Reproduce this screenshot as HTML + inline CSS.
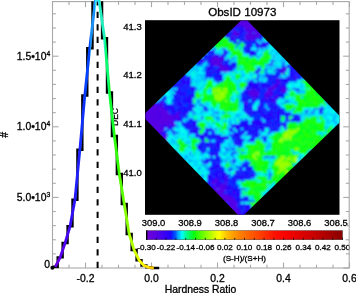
<!DOCTYPE html>
<html><head><meta charset="utf-8"><title>Hardness Ratio</title>
<style>html,body{margin:0;padding:0;background:#fff;width:356px;height:293px;overflow:hidden}</style>
</head><body>
<svg xmlns="http://www.w3.org/2000/svg" width="356" height="293" viewBox="0 0 356 293" style="display:block">
<defs>
<linearGradient id="cb" x1="146.5" y1="0" x2="342.5" y2="0" gradientUnits="userSpaceOnUse"><stop offset="0.000" stop-color="#7400cc"/><stop offset="0.023" stop-color="#6600dc"/><stop offset="0.062" stop-color="#5000e8"/><stop offset="0.096" stop-color="#3800f4"/><stop offset="0.122" stop-color="#2000ff"/><stop offset="0.135" stop-color="#0030ff"/><stop offset="0.150" stop-color="#0060ff"/><stop offset="0.156" stop-color="#0090ff"/><stop offset="0.171" stop-color="#00d0ff"/><stop offset="0.181" stop-color="#00ffff"/><stop offset="0.196" stop-color="#00ffb0"/><stop offset="0.217" stop-color="#00ff60"/><stop offset="0.237" stop-color="#00ff20"/><stop offset="0.253" stop-color="#20ff00"/><stop offset="0.283" stop-color="#60ff00"/><stop offset="0.309" stop-color="#90ff00"/><stop offset="0.334" stop-color="#c0ff00"/><stop offset="0.355" stop-color="#e8ff00"/><stop offset="0.370" stop-color="#ffff00"/><stop offset="0.390" stop-color="#ffe000"/><stop offset="0.411" stop-color="#ffc000"/><stop offset="0.431" stop-color="#ffa800"/><stop offset="0.477" stop-color="#ff8000"/><stop offset="0.528" stop-color="#ff6000"/><stop offset="0.579" stop-color="#ff4000"/><stop offset="0.656" stop-color="#ff1000"/><stop offset="0.712" stop-color="#f80000"/><stop offset="0.783" stop-color="#e00000"/><stop offset="0.855" stop-color="#c80000"/><stop offset="0.911" stop-color="#b00000"/><stop offset="1.000" stop-color="#880000"/></linearGradient>
<linearGradient id="hc" x1="52.5" y1="0" x2="316.5" y2="0" gradientUnits="userSpaceOnUse"><stop offset="0.000" stop-color="#7400cc"/><stop offset="0.023" stop-color="#6600dc"/><stop offset="0.062" stop-color="#5000e8"/><stop offset="0.096" stop-color="#3800f4"/><stop offset="0.122" stop-color="#2000ff"/><stop offset="0.135" stop-color="#0030ff"/><stop offset="0.150" stop-color="#0060ff"/><stop offset="0.156" stop-color="#0090ff"/><stop offset="0.171" stop-color="#00d0ff"/><stop offset="0.181" stop-color="#00ffff"/><stop offset="0.196" stop-color="#00ffb0"/><stop offset="0.217" stop-color="#00ff60"/><stop offset="0.237" stop-color="#00ff20"/><stop offset="0.253" stop-color="#20ff00"/><stop offset="0.283" stop-color="#60ff00"/><stop offset="0.309" stop-color="#90ff00"/><stop offset="0.334" stop-color="#c0ff00"/><stop offset="0.355" stop-color="#e8ff00"/><stop offset="0.370" stop-color="#ffff00"/><stop offset="0.390" stop-color="#ffe000"/><stop offset="0.411" stop-color="#ffc000"/><stop offset="0.431" stop-color="#ffa800"/><stop offset="0.477" stop-color="#ff8000"/><stop offset="0.528" stop-color="#ff6000"/><stop offset="0.579" stop-color="#ff4000"/><stop offset="0.656" stop-color="#ff1000"/><stop offset="0.712" stop-color="#f80000"/><stop offset="0.783" stop-color="#e00000"/><stop offset="0.855" stop-color="#c80000"/><stop offset="0.911" stop-color="#b00000"/><stop offset="1.000" stop-color="#880000"/></linearGradient>
<clipPath id="pa"><rect x="52.5" y="-5" width="296.7" height="276.0"/></clipPath>
<clipPath id="dm"><polygon points="244.35,17.32 342.88,119.35 240.85,217.88 142.32,115.85"/></clipPath>
<clipPath id="bx"><rect x="145" y="20.2" width="194.5" height="194.6"/></clipPath>
<filter id="sf" filterUnits="userSpaceOnUse" x="130" y="5" width="225" height="225"><feGaussianBlur stdDeviation="0.8"/></filter>
</defs>
<rect width="356" height="293" fill="#fff"/>
<rect x="145.0" y="20.2" width="194.5" height="194.60000000000002" fill="#000"/>
<g clip-path="url(#bx)"><g clip-path="url(#dm)"><g filter="url(#sf)">
<path fill="#5600e5" d="M237 20h2v2h-2zM235 22h2v2h-2zM243 22h2v2h-2zM251 22h2v2h-2zM253 24h2v2h-2zM253 26h2v2h-2zM253 28h2v2h-2zM245 34h4v2h-4zM257 34h2v2h-2zM249 36h2v2h-2zM247 38h2v2h-2zM213 56h4v2h-4zM221 58h2v2h-2zM213 60h2v2h-2zM217 60h2v2h-2zM213 64h2v2h-2zM217 64h2v2h-2zM221 66h2v2h-2zM225 70h4v2h-4zM255 90h2v2h-2zM281 90h2v2h-2zM255 92h2v2h-2zM269 92h2v2h-2zM245 102h2v2h-2zM149 106h2v2h-2zM151 110h2v2h-2zM163 110h2v2h-2zM153 112h2v2h-2zM177 112h2v2h-2zM147 114h2v2h-2zM153 114h2v2h-2zM177 114h2v2h-2zM153 116h2v2h-2zM157 116h2v2h-2zM161 116h2v2h-2zM167 116h4v2h-4zM149 118h2v2h-2zM153 118h2v2h-2zM161 118h2v2h-2zM147 120h2v2h-2zM171 120h2v2h-2zM157 122h2v2h-2zM165 122h2v2h-2zM165 124h2v2h-2zM173 124h2v2h-2zM153 128h2v2h-2zM159 130h2v2h-2zM165 134h2v2h-2zM163 136h2v2h-2zM213 182h2v2h-2zM219 184h2v2h-2zM221 186h2v2h-2zM223 190h2v2h-2zM219 192h4v2h-4zM227 194h2v2h-2zM221 196h2v2h-2zM231 198h2v2h-2zM233 200h2v2h-2zM239 214h2v2h-2zM239 216h2v2h-2z"/>
<path fill="#5a00e2" d="M239 20h4v2h-4zM239 24h2v2h-2zM247 24h2v2h-2zM231 26h2v2h-2zM249 26h2v2h-2zM237 34h2v2h-2zM245 38h2v2h-2zM251 38h2v2h-2zM217 58h2v2h-2zM217 62h2v2h-2zM277 78h2v2h-2zM271 86h2v2h-2zM273 88h2v2h-2zM249 90h2v2h-2zM283 90h2v2h-2zM257 92h2v2h-2zM267 92h2v2h-2zM255 94h2v2h-2zM253 96h2v2h-2zM273 100h2v2h-2zM161 108h4v2h-4zM145 110h4v2h-4zM155 110h2v2h-2zM149 112h2v2h-2zM165 112h2v2h-2zM165 114h4v2h-4zM149 116h2v2h-2zM147 118h2v2h-2zM153 120h2v2h-2zM161 120h2v2h-2zM165 120h2v2h-2zM147 122h2v2h-2zM153 124h2v2h-2zM157 126h2v2h-2zM161 128h4v2h-4zM159 134h2v2h-2zM161 136h2v2h-2zM225 182h2v2h-2zM215 188h2v2h-2zM215 190h4v2h-4zM219 194h2v2h-2zM225 196h2v2h-2zM225 198h2v2h-2zM231 206h4v2h-4zM237 210h2v2h-2z"/>
<path fill="#5300e6" d="M243 20h2v2h-2zM239 22h4v2h-4zM237 24h2v2h-2zM243 24h2v2h-2zM251 24h2v2h-2zM251 26h2v2h-2zM229 28h2v2h-2zM253 30h2v2h-2zM247 32h2v2h-2zM259 32h2v2h-2zM251 36h2v2h-2zM255 36h2v2h-2zM211 58h2v2h-2zM215 58h2v2h-2zM211 62h2v2h-2zM215 64h2v2h-2zM283 68h2v2h-2zM271 88h2v2h-2zM251 94h4v2h-4zM265 96h2v2h-2zM253 98h2v2h-2zM271 98h2v2h-2zM155 104h2v2h-2zM161 106h2v2h-2zM151 108h2v2h-2zM159 108h2v2h-2zM153 110h2v2h-2zM157 110h4v2h-4zM165 110h2v2h-2zM147 112h2v2h-2zM155 112h2v2h-2zM159 112h2v2h-2zM149 114h4v2h-4zM161 114h2v2h-2zM151 116h2v2h-2zM167 118h2v2h-2zM177 118h2v2h-2zM151 120h2v2h-2zM155 120h2v2h-2zM169 120h2v2h-2zM169 122h2v2h-2zM159 124h2v2h-2zM171 124h2v2h-2zM153 126h2v2h-2zM161 126h2v2h-2zM165 140h2v2h-2zM215 178h2v2h-2zM225 178h2v2h-2zM221 184h2v2h-2zM225 184h2v2h-2zM213 186h2v2h-2zM221 188h4v2h-4zM221 190h2v2h-2zM233 192h2v2h-2zM223 194h2v2h-2zM229 200h4v2h-4zM229 206h2v2h-2zM231 208h2v2h-2zM235 214h2v2h-2z"/>
<path fill="#5800e4" d="M245 20h2v2h-2zM249 20h2v2h-2zM249 22h2v2h-2zM245 24h2v2h-2zM249 24h2v2h-2zM255 26h2v2h-2zM245 28h2v2h-2zM233 30h2v2h-2zM233 32h2v2h-2zM257 32h2v2h-2zM235 34h2v2h-2zM249 34h2v2h-2zM247 36h2v2h-2zM219 64h2v2h-2zM281 72h2v2h-2zM275 86h2v2h-2zM267 90h2v2h-2zM249 92h2v2h-2zM269 94h2v2h-2zM161 104h2v2h-2zM157 106h2v2h-2zM145 112h2v2h-2zM167 112h2v2h-2zM163 114h2v2h-2zM165 116h2v2h-2zM175 116h4v2h-4zM155 118h2v2h-2zM163 118h4v2h-4zM145 120h2v2h-2zM163 120h2v2h-2zM167 120h2v2h-2zM159 122h4v2h-4zM171 122h2v2h-2zM149 124h2v2h-2zM155 124h2v2h-2zM167 124h2v2h-2zM151 126h2v2h-2zM167 126h2v2h-2zM155 128h4v2h-4zM165 136h2v2h-2zM163 138h2v2h-2zM213 180h2v2h-2zM219 190h2v2h-2zM217 192h2v2h-2zM223 196h2v2h-2zM221 198h2v2h-2zM225 200h2v2h-2zM235 202h2v2h-2zM235 210h2v2h-2zM233 212h2v2h-2zM237 212h2v2h-2z"/>
<path fill="#4f00e9" d="M247 20h2v2h-2zM237 22h2v2h-2zM233 24h2v2h-2zM233 26h2v2h-2zM243 26h2v2h-2zM255 28h2v2h-2zM247 30h4v2h-4zM235 32h2v2h-2zM249 32h2v2h-2zM251 34h2v2h-2zM213 58h2v2h-2zM215 60h2v2h-2zM221 60h2v2h-2zM213 62h2v2h-2zM219 68h2v2h-2zM227 68h2v2h-2zM281 68h2v2h-2zM277 80h2v2h-2zM277 82h2v2h-2zM245 88h2v2h-2zM253 88h2v2h-2zM265 92h2v2h-2zM249 94h2v2h-2zM267 96h2v2h-2zM275 96h2v2h-2zM151 106h2v2h-2zM153 108h2v2h-2zM155 116h2v2h-2zM159 116h2v2h-2zM159 118h2v2h-2zM169 118h2v2h-2zM173 118h2v2h-2zM151 122h4v2h-4zM163 122h2v2h-2zM151 124h2v2h-2zM157 124h2v2h-2zM157 132h4v2h-4zM215 180h4v2h-4zM215 182h2v2h-2zM227 196h6v2h-6zM223 200h2v2h-2zM233 204h2v2h-2zM231 210h2v2h-2zM235 212h2v2h-2z"/>
<path fill="#5c00e1" d="M245 22h2v2h-2zM245 26h2v2h-2zM251 28h2v2h-2zM237 32h2v2h-2zM255 32h2v2h-2zM219 58h2v2h-2zM211 60h2v2h-2zM221 68h2v2h-2zM279 82h2v2h-2zM269 88h2v2h-2zM283 88h2v2h-2zM269 90h2v2h-2zM149 108h2v2h-2zM163 112h2v2h-2zM145 114h2v2h-2zM145 116h2v2h-2zM145 118h2v2h-2zM151 118h2v2h-2zM171 118h2v2h-2zM159 120h2v2h-2zM161 130h2v2h-2zM211 182h2v2h-2zM227 198h4v2h-4zM235 204h2v2h-2z"/>
<path fill="#4c00ea" d="M247 22h2v2h-2zM235 24h2v2h-2zM241 24h2v2h-2zM245 30h2v2h-2zM251 30h2v2h-2zM255 30h2v2h-2zM233 34h2v2h-2zM253 36h2v2h-2zM257 36h2v2h-2zM253 38h2v2h-2zM221 56h2v2h-2zM219 60h2v2h-2zM215 62h2v2h-2zM221 64h2v2h-2zM219 66h2v2h-2zM223 68h4v2h-4zM221 70h2v2h-2zM281 70h4v2h-4zM273 84h2v2h-2zM273 86h2v2h-2zM281 86h2v2h-2zM267 88h2v2h-2zM253 90h2v2h-2zM271 92h2v2h-2zM267 94h2v2h-2zM153 102h2v2h-2zM159 104h2v2h-2zM155 106h2v2h-2zM159 106h2v2h-2zM147 108h2v2h-2zM149 110h2v2h-2zM151 112h2v2h-2zM157 114h4v2h-4zM171 114h2v2h-2zM147 116h2v2h-2zM171 116h4v2h-4zM157 118h2v2h-2zM157 120h2v2h-2zM167 122h2v2h-2zM161 124h4v2h-4zM155 130h4v2h-4zM165 138h2v2h-2zM225 176h2v2h-2zM219 186h2v2h-2zM223 186h2v2h-2zM225 194h2v2h-2zM223 198h2v2h-2zM233 198h2v2h-2zM227 200h2v2h-2zM231 204h2v2h-2zM227 206h2v2h-2zM235 206h2v2h-2zM229 208h2v2h-2zM233 208h2v2h-2zM233 210h2v2h-2zM239 218h2v2h-2z"/>
<path fill="#2900fb" d="M235 26h2v2h-2zM231 28h2v2h-2zM241 28h2v2h-2zM241 30h2v2h-2zM227 36h2v2h-2zM259 36h4v2h-4zM249 40h2v2h-2zM267 40h2v2h-2zM257 42h2v2h-2zM267 42h2v2h-2zM257 44h2v2h-2zM249 46h2v2h-2zM265 46h2v2h-2zM209 50h2v2h-2zM251 50h2v2h-2zM225 52h2v2h-2zM245 52h2v2h-2zM251 52h2v2h-2zM215 54h4v2h-4zM249 54h2v2h-2zM219 56h2v2h-2zM199 60h2v2h-2zM203 60h2v2h-2zM207 60h2v2h-2zM271 62h2v2h-2zM225 64h4v2h-4zM269 64h2v2h-2zM209 66h2v2h-2zM235 66h2v2h-2zM285 66h2v2h-2zM207 68h4v2h-4zM213 70h2v2h-2zM217 70h2v2h-2zM285 70h2v2h-2zM211 72h2v2h-2zM255 72h4v2h-4zM291 72h2v2h-2zM297 72h2v2h-2zM209 74h2v2h-2zM273 74h2v2h-2zM301 74h2v2h-2zM273 76h2v2h-2zM287 76h2v2h-2zM189 78h2v2h-2zM271 78h2v2h-2zM275 78h2v2h-2zM293 78h2v2h-2zM183 80h2v2h-2zM221 80h2v2h-2zM285 80h2v2h-2zM183 82h2v2h-2zM259 82h2v2h-2zM181 84h2v2h-2zM249 84h2v2h-2zM255 84h2v2h-2zM185 86h2v2h-2zM189 86h2v2h-2zM261 86h2v2h-2zM265 86h2v2h-2zM277 86h2v2h-2zM283 86h4v2h-4zM179 88h2v2h-2zM191 88h2v2h-2zM257 88h4v2h-4zM285 88h2v2h-2zM179 90h2v2h-2zM259 90h2v2h-2zM277 90h2v2h-2zM177 92h2v2h-2zM241 92h2v2h-2zM183 94h2v2h-2zM275 94h2v2h-2zM189 96h2v2h-2zM257 96h2v2h-2zM177 98h2v2h-2zM249 98h2v2h-2zM261 98h2v2h-2zM269 98h2v2h-2zM273 98h2v2h-2zM243 100h2v2h-2zM263 100h2v2h-2zM269 100h2v2h-2zM189 102h2v2h-2zM267 102h2v2h-2zM275 102h2v2h-2zM165 104h2v2h-2zM175 104h2v2h-2zM189 104h2v2h-2zM275 104h2v2h-2zM191 106h4v2h-4zM275 106h2v2h-2zM165 108h2v2h-2zM171 108h2v2h-2zM177 108h2v2h-2zM243 108h2v2h-2zM251 108h2v2h-2zM171 110h4v2h-4zM179 110h2v2h-2zM187 110h2v2h-2zM205 110h2v2h-2zM253 110h2v2h-2zM261 110h2v2h-2zM271 110h2v2h-2zM307 110h2v2h-2zM181 112h2v2h-2zM185 112h4v2h-4zM193 112h2v2h-2zM215 112h2v2h-2zM245 112h2v2h-2zM249 112h2v2h-2zM261 114h4v2h-4zM183 116h2v2h-2zM273 116h2v2h-2zM277 116h2v2h-2zM175 118h2v2h-2zM299 118h2v2h-2zM195 120h2v2h-2zM259 120h2v2h-2zM267 120h2v2h-2zM287 120h2v2h-2zM195 122h2v2h-2zM255 122h2v2h-2zM261 122h4v2h-4zM283 122h2v2h-2zM237 124h2v2h-2zM245 124h2v2h-2zM249 124h2v2h-2zM267 124h2v2h-2zM277 124h2v2h-2zM283 124h2v2h-2zM163 126h2v2h-2zM189 126h2v2h-2zM235 126h2v2h-2zM239 126h2v2h-2zM265 126h2v2h-2zM269 126h2v2h-2zM279 126h2v2h-2zM193 128h2v2h-2zM197 128h2v2h-2zM205 128h2v2h-2zM229 128h2v2h-2zM259 128h4v2h-4zM195 130h2v2h-2zM213 130h2v2h-2zM245 130h2v2h-2zM173 132h2v2h-2zM189 132h2v2h-2zM197 132h2v2h-2zM213 132h2v2h-2zM241 132h2v2h-2zM267 132h2v2h-2zM163 134h2v2h-2zM173 134h2v2h-2zM201 134h4v2h-4zM207 134h2v2h-2zM231 134h2v2h-2zM249 134h2v2h-2zM205 136h2v2h-2zM217 136h2v2h-2zM223 136h2v2h-2zM253 136h2v2h-2zM241 138h2v2h-2zM201 140h2v2h-2zM215 140h2v2h-2zM235 140h4v2h-4zM251 140h4v2h-4zM239 142h2v2h-2zM217 144h2v2h-2zM237 144h2v2h-2zM197 146h2v2h-2zM207 146h4v2h-4zM215 146h2v2h-2zM225 148h2v2h-2zM309 150h2v2h-2zM189 152h2v2h-2zM217 154h2v2h-2zM215 156h2v2h-2zM215 160h2v2h-2zM205 162h2v2h-2zM245 162h2v2h-2zM219 164h2v2h-2zM219 168h2v2h-2zM239 168h2v2h-2zM229 170h2v2h-2zM235 170h2v2h-2zM243 170h2v2h-2zM249 170h2v2h-2zM209 172h2v2h-2zM219 172h2v2h-2zM225 172h2v2h-2zM235 172h2v2h-2zM239 172h2v2h-2zM223 174h2v2h-2zM241 174h2v2h-2zM209 176h2v2h-2zM217 176h2v2h-2zM235 176h2v2h-2zM251 176h2v2h-2zM223 178h2v2h-2zM239 178h2v2h-2zM219 180h2v2h-2zM227 180h2v2h-2zM241 180h2v2h-2zM219 182h2v2h-2zM231 188h2v2h-2zM213 190h2v2h-2zM233 190h2v2h-2zM239 192h2v2h-2zM235 194h4v2h-4zM237 196h2v2h-2zM243 196h2v2h-2zM241 200h2v2h-2zM241 204h2v2h-2zM247 206h2v2h-2zM239 208h2v2h-2zM245 208h2v2h-2zM243 212h2v2h-2z"/>
<path fill="#2200fe" d="M237 26h2v2h-2zM259 30h2v2h-2zM227 34h2v2h-2zM261 38h2v2h-2zM235 40h2v2h-2zM247 40h2v2h-2zM237 42h2v2h-2zM255 42h2v2h-2zM249 44h2v2h-2zM265 44h4v2h-4zM259 46h2v2h-2zM213 50h2v2h-2zM225 50h2v2h-2zM253 50h2v2h-2zM203 54h2v2h-2zM203 56h2v2h-2zM209 56h2v2h-2zM217 56h2v2h-2zM199 58h2v2h-2zM205 58h2v2h-2zM209 58h2v2h-2zM231 58h2v2h-2zM197 60h2v2h-2zM225 62h2v2h-2zM223 64h2v2h-2zM233 64h2v2h-2zM267 64h2v2h-2zM207 66h2v2h-2zM211 66h2v2h-2zM291 66h2v2h-2zM217 68h2v2h-2zM277 68h2v2h-2zM293 68h2v2h-2zM255 70h2v2h-2zM205 72h4v2h-4zM289 72h2v2h-2zM293 72h2v2h-2zM257 74h2v2h-2zM279 74h2v2h-2zM293 74h2v2h-2zM189 76h2v2h-2zM217 76h2v2h-2zM221 76h2v2h-2zM265 76h2v2h-2zM291 76h2v2h-2zM301 76h2v2h-2zM181 78h4v2h-4zM205 78h2v2h-2zM213 78h2v2h-2zM255 78h2v2h-2zM267 78h2v2h-2zM283 78h4v2h-4zM299 78h2v2h-2zM215 80h2v2h-2zM249 80h2v2h-2zM275 80h2v2h-2zM181 82h2v2h-2zM189 82h2v2h-2zM247 82h6v2h-6zM257 82h2v2h-2zM265 82h2v2h-2zM273 82h2v2h-2zM173 84h2v2h-2zM177 84h4v2h-4zM187 84h2v2h-2zM253 84h2v2h-2zM261 84h4v2h-4zM267 84h2v2h-2zM283 84h2v2h-2zM169 86h2v2h-2zM191 86h4v2h-4zM255 86h4v2h-4zM279 86h2v2h-2zM185 88h2v2h-2zM279 88h2v2h-2zM293 88h2v2h-2zM243 90h2v2h-2zM275 90h2v2h-2zM175 92h2v2h-2zM181 92h2v2h-2zM243 92h2v2h-2zM173 96h2v2h-2zM243 96h2v2h-2zM269 96h2v2h-2zM165 98h2v2h-2zM185 98h4v2h-4zM243 98h2v2h-2zM159 100h2v2h-2zM163 100h2v2h-2zM183 100h2v2h-2zM247 100h2v2h-2zM251 100h2v2h-2zM177 102h2v2h-2zM183 102h2v2h-2zM171 104h2v2h-2zM177 104h4v2h-4zM245 104h2v2h-2zM251 104h2v2h-2zM181 106h2v2h-2zM189 106h2v2h-2zM205 106h2v2h-2zM245 106h4v2h-4zM269 106h2v2h-2zM273 106h2v2h-2zM279 106h2v2h-2zM247 108h2v2h-2zM245 110h2v2h-2zM269 110h2v2h-2zM279 110h4v2h-4zM321 110h2v2h-2zM173 112h2v2h-2zM247 112h2v2h-2zM267 112h2v2h-2zM273 112h2v2h-2zM287 112h4v2h-4zM311 112h2v2h-2zM255 114h2v2h-2zM265 114h4v2h-4zM271 114h2v2h-2zM277 114h2v2h-2zM297 114h2v2h-2zM179 116h2v2h-2zM285 116h2v2h-2zM297 116h2v2h-2zM279 118h2v2h-2zM177 120h4v2h-4zM255 120h4v2h-4zM181 122h2v2h-2zM245 122h2v2h-2zM271 122h2v2h-2zM185 124h6v2h-6zM193 124h4v2h-4zM243 124h2v2h-2zM247 124h2v2h-2zM255 124h2v2h-2zM259 124h2v2h-2zM165 126h2v2h-2zM173 126h2v2h-2zM193 126h2v2h-2zM231 126h2v2h-2zM245 126h4v2h-4zM271 126h2v2h-2zM171 128h2v2h-2zM195 128h2v2h-2zM209 128h4v2h-4zM235 128h4v2h-4zM165 130h2v2h-2zM171 130h2v2h-2zM193 130h2v2h-2zM205 130h2v2h-2zM241 130h2v2h-2zM249 130h2v2h-2zM277 130h2v2h-2zM191 132h2v2h-2zM195 132h2v2h-2zM211 132h2v2h-2zM251 132h2v2h-2zM209 134h2v2h-2zM215 134h4v2h-4zM237 134h2v2h-2zM259 134h2v2h-2zM203 136h2v2h-2zM213 136h2v2h-2zM219 136h2v2h-2zM235 136h2v2h-2zM239 136h2v2h-2zM263 136h2v2h-2zM217 138h4v2h-4zM237 138h4v2h-4zM265 138h2v2h-2zM203 140h2v2h-2zM209 140h2v2h-2zM263 140h2v2h-2zM209 142h2v2h-2zM217 142h2v2h-2zM221 142h2v2h-2zM235 142h2v2h-2zM235 144h2v2h-2zM199 146h2v2h-2zM205 148h2v2h-2zM201 150h2v2h-2zM215 150h2v2h-2zM213 152h2v2h-2zM235 152h2v2h-2zM273 156h2v2h-2zM215 158h2v2h-2zM211 162h2v2h-2zM215 164h4v2h-4zM215 166h2v2h-2zM219 166h2v2h-2zM249 166h2v2h-2zM245 168h2v2h-2zM249 168h2v2h-2zM237 170h2v2h-2zM213 172h2v2h-2zM223 172h2v2h-2zM243 172h2v2h-2zM209 174h2v2h-2zM215 174h2v2h-2zM269 174h2v2h-2zM221 176h4v2h-4zM237 176h4v2h-4zM253 176h2v2h-2zM213 178h2v2h-2zM227 178h2v2h-2zM241 178h2v2h-2zM207 180h2v2h-2zM211 180h2v2h-2zM235 180h2v2h-2zM205 182h2v2h-2zM221 182h2v2h-2zM207 184h2v2h-2zM229 184h2v2h-2zM225 186h2v2h-2zM211 188h2v2h-2zM227 188h2v2h-2zM237 188h6v2h-6zM235 190h2v2h-2zM245 196h2v2h-2zM235 198h2v2h-2zM227 204h2v2h-2zM239 204h2v2h-2zM245 204h2v2h-2zM239 210h2v2h-2zM243 210h6v2h-6zM241 218h2v2h-2z"/>
<path fill="#1b07ff" d="M239 26h2v2h-2zM233 28h2v2h-2zM239 28h2v2h-2zM239 34h2v2h-2zM229 36h2v2h-2zM239 36h2v2h-2zM237 38h2v2h-2zM255 38h2v2h-2zM235 42h2v2h-2zM251 42h2v2h-2zM261 42h2v2h-2zM269 42h2v2h-2zM261 44h4v2h-4zM243 46h2v2h-2zM213 48h2v2h-2zM223 48h2v2h-2zM243 50h2v2h-2zM253 52h2v2h-2zM225 54h2v2h-2zM207 56h2v2h-2zM211 56h2v2h-2zM223 56h2v2h-2zM257 56h2v2h-2zM223 58h2v2h-2zM197 62h2v2h-2zM207 62h4v2h-4zM233 62h2v2h-2zM283 64h2v2h-2zM229 66h2v2h-2zM211 68h4v2h-4zM259 68h2v2h-2zM291 68h2v2h-2zM257 70h2v2h-2zM265 70h2v2h-2zM277 70h2v2h-2zM291 70h2v2h-2zM295 70h2v2h-2zM217 72h2v2h-2zM219 74h4v2h-4zM267 74h4v2h-4zM291 74h2v2h-2zM209 76h2v2h-2zM215 76h2v2h-2zM219 76h2v2h-2zM177 78h2v2h-2zM187 78h2v2h-2zM251 80h2v2h-2zM271 80h2v2h-2zM287 80h4v2h-4zM177 82h2v2h-2zM217 82h2v2h-2zM253 82h2v2h-2zM263 82h2v2h-2zM285 82h2v2h-2zM175 84h2v2h-2zM269 84h2v2h-2zM281 84h2v2h-2zM171 86h2v2h-2zM247 86h2v2h-2zM183 88h2v2h-2zM255 88h2v2h-2zM297 88h2v2h-2zM193 90h2v2h-2zM247 90h2v2h-2zM297 90h2v2h-2zM247 92h2v2h-2zM277 92h2v2h-2zM191 94h2v2h-2zM279 94h2v2h-2zM183 96h2v2h-2zM187 96h2v2h-2zM191 96h2v2h-2zM175 98h2v2h-2zM189 98h2v2h-2zM247 98h2v2h-2zM177 100h2v2h-2zM253 100h2v2h-2zM267 100h2v2h-2zM159 102h2v2h-2zM173 102h2v2h-2zM181 104h2v2h-2zM193 104h2v2h-2zM201 104h2v2h-2zM243 104h2v2h-2zM163 106h2v2h-2zM173 106h2v2h-2zM183 106h2v2h-2zM173 108h2v2h-2zM181 108h4v2h-4zM207 108h2v2h-2zM259 108h2v2h-2zM265 108h2v2h-2zM275 108h2v2h-2zM279 108h2v2h-2zM185 110h2v2h-2zM251 110h2v2h-2zM259 110h2v2h-2zM319 110h2v2h-2zM175 112h2v2h-2zM305 112h2v2h-2zM319 112h4v2h-4zM173 114h2v2h-2zM247 114h2v2h-2zM287 114h2v2h-2zM291 114h2v2h-2zM265 116h2v2h-2zM275 116h2v2h-2zM279 116h2v2h-2zM287 116h2v2h-2zM191 118h2v2h-2zM263 118h4v2h-4zM269 118h2v2h-2zM295 118h2v2h-2zM173 120h2v2h-2zM191 120h2v2h-2zM277 120h2v2h-2zM289 120h2v2h-2zM299 120h2v2h-2zM193 122h2v2h-2zM239 122h4v2h-4zM275 122h2v2h-2zM169 124h2v2h-2zM191 124h2v2h-2zM231 124h2v2h-2zM235 124h2v2h-2zM251 124h2v2h-2zM253 126h4v2h-4zM263 126h2v2h-2zM267 126h2v2h-2zM277 126h2v2h-2zM283 126h2v2h-2zM215 128h2v2h-2zM245 128h4v2h-4zM255 128h2v2h-2zM263 128h2v2h-2zM273 128h4v2h-4zM167 130h2v2h-2zM231 130h2v2h-2zM237 130h2v2h-2zM251 130h2v2h-2zM271 130h2v2h-2zM193 132h2v2h-2zM243 132h2v2h-2zM257 132h2v2h-2zM269 132h2v2h-2zM167 134h2v2h-2zM233 134h2v2h-2zM195 136h2v2h-2zM227 136h2v2h-2zM221 138h2v2h-2zM243 140h2v2h-2zM167 142h2v2h-2zM201 142h2v2h-2zM215 142h2v2h-2zM239 144h4v2h-4zM205 146h2v2h-2zM217 146h2v2h-2zM219 148h2v2h-2zM227 148h2v2h-2zM233 148h2v2h-2zM217 150h2v2h-2zM309 152h2v2h-2zM271 156h2v2h-2zM207 160h2v2h-2zM203 162h2v2h-2zM241 164h4v2h-4zM213 168h4v2h-4zM247 168h2v2h-2zM215 170h2v2h-2zM219 170h2v2h-2zM211 172h2v2h-2zM217 172h2v2h-2zM247 172h2v2h-2zM233 174h2v2h-2zM201 176h2v2h-2zM215 176h2v2h-2zM219 176h2v2h-2zM243 176h2v2h-2zM207 178h4v2h-4zM217 178h6v2h-6zM247 178h2v2h-2zM225 180h2v2h-2zM233 188h2v2h-2zM231 192h2v2h-2zM235 192h4v2h-4zM233 196h2v2h-2zM239 198h2v2h-2zM247 198h2v2h-2zM235 200h4v2h-4zM247 204h2v2h-2zM245 206h2v2h-2zM241 208h2v2h-2zM241 212h2v2h-2zM245 212h4v2h-4zM243 214h4v2h-4z"/>
<path fill="#2d00f9" d="M241 26h2v2h-2zM223 34h4v2h-4zM241 38h2v2h-2zM263 42h2v2h-2zM245 46h2v2h-2zM261 46h2v2h-2zM207 50h2v2h-2zM273 56h2v2h-2zM201 60h2v2h-2zM273 60h2v2h-2zM207 70h2v2h-2zM215 70h2v2h-2zM259 70h2v2h-2zM295 72h2v2h-2zM281 78h2v2h-2zM185 80h2v2h-2zM257 84h2v2h-2zM177 88h2v2h-2zM279 96h2v2h-2zM181 98h2v2h-2zM187 100h2v2h-2zM199 104h2v2h-2zM321 106h2v2h-2zM203 108h2v2h-2zM257 108h2v2h-2zM319 108h2v2h-2zM191 110h2v2h-2zM271 112h2v2h-2zM183 114h2v2h-2zM269 114h2v2h-2zM249 116h2v2h-2zM263 116h2v2h-2zM251 120h2v2h-2zM269 122h2v2h-2zM257 124h2v2h-2zM167 128h2v2h-2zM189 128h2v2h-2zM257 130h2v2h-2zM223 138h2v2h-2zM199 142h2v2h-2zM211 146h2v2h-2zM209 154h4v2h-4zM233 158h2v2h-2zM207 162h2v2h-2zM217 174h2v2h-2zM221 174h2v2h-2zM251 174h4v2h-4zM211 176h2v2h-2zM243 188h2v2h-2zM239 194h2v2h-2zM247 196h2v2h-2zM263 196h2v2h-2zM245 200h2v2h-2zM249 206h2v2h-2zM239 212h2v2h-2z"/>
<path fill="#5100e7" d="M247 26h2v2h-2zM247 28h4v2h-4zM251 32h2v2h-2zM253 34h4v2h-4zM231 36h2v2h-2zM245 36h2v2h-2zM233 38h2v2h-2zM249 38h2v2h-2zM219 62h2v2h-2zM223 66h4v2h-4zM285 68h2v2h-2zM223 70h2v2h-2zM295 76h2v2h-2zM275 84h2v2h-2zM281 88h2v2h-2zM251 90h2v2h-2zM285 90h2v2h-2zM251 92h4v2h-4zM257 94h2v2h-2zM265 94h2v2h-2zM271 94h2v2h-2zM277 96h2v2h-2zM265 98h2v2h-2zM161 102h2v2h-2zM151 104h4v2h-4zM153 106h2v2h-2zM155 108h4v2h-4zM161 110h2v2h-2zM157 112h2v2h-2zM161 112h2v2h-2zM155 114h2v2h-2zM169 114h2v2h-2zM175 114h2v2h-2zM163 116h2v2h-2zM149 120h2v2h-2zM149 122h2v2h-2zM155 122h2v2h-2zM173 122h2v2h-2zM155 126h2v2h-2zM159 126h2v2h-2zM159 128h2v2h-2zM223 184h2v2h-2zM215 186h4v2h-4zM213 188h2v2h-2zM219 188h2v2h-2zM225 188h2v2h-2zM215 192h2v2h-2zM217 194h2v2h-2zM221 194h2v2h-2zM219 196h2v2h-2zM229 202h6v2h-6zM229 204h2v2h-2zM235 208h2v2h-2zM237 214h2v2h-2zM237 216h2v2h-2z"/>
<path fill="#0033ff" d="M235 28h4v2h-4zM227 30h2v2h-2zM237 30h2v2h-2zM243 32h4v2h-4zM253 32h2v2h-2zM229 34h2v2h-2zM261 34h2v2h-2zM243 36h2v2h-2zM243 38h2v2h-2zM259 38h2v2h-2zM229 40h2v2h-2zM233 40h2v2h-2zM245 40h2v2h-2zM239 42h2v2h-2zM245 42h2v2h-2zM237 44h2v2h-2zM245 44h2v2h-2zM251 44h2v2h-2zM259 44h2v2h-2zM255 46h2v2h-2zM243 48h4v2h-4zM245 50h2v2h-2zM207 52h4v2h-4zM211 54h2v2h-2zM205 56h2v2h-2zM207 58h2v2h-2zM271 60h2v2h-2zM199 62h2v2h-2zM227 62h2v2h-2zM235 62h2v2h-2zM197 64h4v2h-4zM235 64h2v2h-2zM291 64h2v2h-2zM213 66h2v2h-2zM217 66h2v2h-2zM281 66h4v2h-4zM205 68h2v2h-2zM215 68h2v2h-2zM295 68h2v2h-2zM205 70h2v2h-2zM211 70h2v2h-2zM293 70h2v2h-2zM297 70h2v2h-2zM265 72h2v2h-2zM183 74h2v2h-2zM205 74h2v2h-2zM211 74h4v2h-4zM295 74h2v2h-2zM269 76h4v2h-4zM275 76h4v2h-4zM297 76h4v2h-4zM179 78h2v2h-2zM217 78h2v2h-2zM273 78h2v2h-2zM289 78h4v2h-4zM257 80h2v2h-2zM269 80h2v2h-2zM291 80h2v2h-2zM175 82h2v2h-2zM179 82h2v2h-2zM255 82h2v2h-2zM261 82h2v2h-2zM269 82h2v2h-2zM185 84h2v2h-2zM271 84h2v2h-2zM285 84h2v2h-2zM175 86h4v2h-4zM183 86h2v2h-2zM259 86h2v2h-2zM181 88h2v2h-2zM187 88h2v2h-2zM249 88h2v2h-2zM183 90h2v2h-2zM187 90h2v2h-2zM261 90h2v2h-2zM265 90h2v2h-2zM273 90h2v2h-2zM187 92h4v2h-4zM193 92h2v2h-2zM275 92h2v2h-2zM279 92h2v2h-2zM177 94h2v2h-2zM259 94h2v2h-2zM283 94h2v2h-2zM163 96h2v2h-2zM245 96h2v2h-2zM259 96h4v2h-4zM283 96h2v2h-2zM173 98h2v2h-2zM251 98h2v2h-2zM257 98h4v2h-4zM161 100h2v2h-2zM171 100h2v2h-2zM181 100h2v2h-2zM245 100h2v2h-2zM287 100h2v2h-2zM175 102h2v2h-2zM191 102h2v2h-2zM249 102h2v2h-2zM253 102h2v2h-2zM263 102h2v2h-2zM269 102h2v2h-2zM187 104h2v2h-2zM247 104h4v2h-4zM263 104h2v2h-2zM273 104h2v2h-2zM277 104h2v2h-2zM203 106h2v2h-2zM249 106h2v2h-2zM267 106h2v2h-2zM277 106h2v2h-2zM175 108h2v2h-2zM245 108h2v2h-2zM261 108h2v2h-2zM271 108h2v2h-2zM277 108h2v2h-2zM281 108h4v2h-4zM169 110h2v2h-2zM249 110h2v2h-2zM263 110h2v2h-2zM267 110h2v2h-2zM275 110h2v2h-2zM283 110h2v2h-2zM255 112h2v2h-2zM281 112h2v2h-2zM181 114h2v2h-2zM185 114h2v2h-2zM249 114h6v2h-6zM257 114h4v2h-4zM273 114h2v2h-2zM185 116h2v2h-2zM251 116h2v2h-2zM257 116h4v2h-4zM293 116h4v2h-4zM181 118h2v2h-2zM253 118h4v2h-4zM259 118h2v2h-2zM297 118h2v2h-2zM175 120h2v2h-2zM261 120h2v2h-2zM285 120h2v2h-2zM189 122h2v2h-2zM247 122h2v2h-2zM265 122h2v2h-2zM183 124h2v2h-2zM263 124h2v2h-2zM269 124h2v2h-2zM275 124h2v2h-2zM195 126h2v2h-2zM249 126h2v2h-2zM257 126h2v2h-2zM273 126h2v2h-2zM187 128h2v2h-2zM243 128h2v2h-2zM251 128h2v2h-2zM189 130h2v2h-2zM197 130h2v2h-2zM207 130h4v2h-4zM239 130h2v2h-2zM247 130h2v2h-2zM275 130h2v2h-2zM175 132h2v2h-2zM239 132h2v2h-2zM249 132h2v2h-2zM219 134h2v2h-2zM251 134h2v2h-2zM257 134h2v2h-2zM207 136h2v2h-2zM231 136h2v2h-2zM209 138h2v2h-2zM213 138h4v2h-4zM221 140h4v2h-4zM233 140h2v2h-2zM247 140h2v2h-2zM203 142h2v2h-2zM205 144h2v2h-2zM209 144h2v2h-2zM213 144h2v2h-2zM203 146h2v2h-2zM217 148h2v2h-2zM199 150h2v2h-2zM211 150h2v2h-2zM219 150h2v2h-2zM207 152h2v2h-2zM215 152h2v2h-2zM231 152h2v2h-2zM231 154h2v2h-2zM211 156h2v2h-2zM213 158h2v2h-2zM219 158h2v2h-2zM215 162h2v2h-2zM245 164h2v2h-2zM207 168h2v2h-2zM217 168h2v2h-2zM221 168h4v2h-4zM211 170h4v2h-4zM245 170h4v2h-4zM251 170h2v2h-2zM237 172h2v2h-2zM241 172h2v2h-2zM251 172h2v2h-2zM211 174h2v2h-2zM219 174h2v2h-2zM235 174h2v2h-2zM239 174h2v2h-2zM249 174h2v2h-2zM213 176h2v2h-2zM231 176h2v2h-2zM269 176h2v2h-2zM229 178h2v2h-2zM235 178h2v2h-2zM221 180h2v2h-2zM227 182h4v2h-4zM235 182h2v2h-2zM209 184h2v2h-2zM237 184h2v2h-2zM235 186h2v2h-2zM217 188h2v2h-2zM225 190h2v2h-2zM229 190h2v2h-2zM225 192h2v2h-2zM239 196h2v2h-2zM243 198h4v2h-4zM243 200h2v2h-2zM247 200h4v2h-4zM225 202h2v2h-2zM237 204h2v2h-2zM243 206h2v2h-2zM243 208h2v2h-2zM243 216h2v2h-2z"/>
<path fill="#0725ff" d="M243 28h2v2h-2zM257 28h2v2h-2zM229 30h2v2h-2zM229 32h2v2h-2zM241 34h2v2h-2zM259 34h2v2h-2zM233 36h6v2h-6zM241 36h2v2h-2zM235 38h2v2h-2zM239 38h2v2h-2zM239 40h2v2h-2zM251 40h2v2h-2zM259 40h2v2h-2zM247 42h4v2h-4zM265 42h2v2h-2zM235 46h2v2h-2zM247 46h2v2h-2zM257 48h2v2h-2zM261 48h2v2h-2zM249 50h2v2h-2zM255 52h2v2h-2zM213 54h2v2h-2zM255 54h2v2h-2zM203 58h2v2h-2zM225 60h2v2h-2zM229 64h2v2h-2zM287 64h2v2h-2zM233 66h2v2h-2zM289 66h2v2h-2zM265 68h2v2h-2zM289 68h2v2h-2zM209 70h2v2h-2zM273 70h2v2h-2zM215 72h2v2h-2zM185 74h2v2h-2zM207 74h2v2h-2zM265 74h2v2h-2zM271 74h2v2h-2zM277 74h2v2h-2zM283 74h2v2h-2zM289 74h2v2h-2zM297 74h2v2h-2zM181 76h2v2h-2zM185 76h2v2h-2zM205 76h2v2h-2zM213 76h2v2h-2zM267 76h2v2h-2zM303 76h2v2h-2zM257 78h2v2h-2zM217 80h2v2h-2zM267 80h2v2h-2zM273 80h2v2h-2zM281 80h2v2h-2zM293 80h4v2h-4zM173 82h2v2h-2zM267 82h2v2h-2zM283 82h2v2h-2zM189 84h2v2h-2zM247 84h2v2h-2zM279 84h2v2h-2zM173 86h2v2h-2zM179 86h2v2h-2zM187 86h2v2h-2zM167 88h2v2h-2zM189 88h2v2h-2zM193 88h2v2h-2zM247 88h2v2h-2zM261 88h4v2h-4zM275 88h2v2h-2zM295 88h2v2h-2zM175 90h2v2h-2zM181 90h2v2h-2zM245 90h2v2h-2zM191 92h2v2h-2zM261 92h4v2h-4zM185 94h4v2h-4zM241 94h2v2h-2zM261 94h2v2h-2zM177 96h2v2h-2zM185 96h2v2h-2zM241 96h2v2h-2zM249 96h2v2h-2zM271 96h4v2h-4zM161 98h2v2h-2zM241 98h2v2h-2zM255 98h2v2h-2zM267 98h2v2h-2zM179 100h2v2h-2zM191 100h2v2h-2zM197 100h2v2h-2zM285 100h2v2h-2zM155 102h2v2h-2zM181 102h2v2h-2zM243 102h2v2h-2zM261 102h2v2h-2zM265 102h2v2h-2zM273 102h2v2h-2zM163 104h2v2h-2zM169 104h2v2h-2zM191 104h2v2h-2zM269 104h2v2h-2zM177 106h4v2h-4zM185 106h2v2h-2zM189 108h2v2h-2zM205 108h2v2h-2zM269 108h2v2h-2zM323 108h2v2h-2zM167 110h2v2h-2zM175 110h2v2h-2zM181 110h2v2h-2zM247 110h2v2h-2zM273 110h2v2h-2zM305 110h2v2h-2zM217 112h2v2h-2zM257 112h2v2h-2zM275 114h2v2h-2zM279 114h2v2h-2zM295 114h2v2h-2zM181 116h2v2h-2zM187 116h2v2h-2zM255 116h2v2h-2zM245 118h2v2h-2zM187 120h2v2h-2zM241 120h6v2h-6zM273 120h2v2h-2zM295 120h2v2h-2zM183 122h4v2h-4zM191 122h2v2h-2zM229 122h2v2h-2zM273 122h2v2h-2zM253 124h2v2h-2zM271 124h2v2h-2zM281 124h2v2h-2zM285 124h2v2h-2zM191 126h2v2h-2zM197 126h2v2h-2zM233 126h2v2h-2zM275 126h2v2h-2zM169 128h2v2h-2zM191 128h2v2h-2zM253 128h2v2h-2zM269 128h2v2h-2zM191 130h2v2h-2zM211 130h2v2h-2zM243 130h2v2h-2zM261 130h2v2h-2zM177 132h2v2h-2zM233 132h2v2h-2zM255 132h2v2h-2zM205 134h2v2h-2zM239 134h2v2h-2zM245 134h2v2h-2zM253 134h2v2h-2zM209 136h4v2h-4zM215 136h2v2h-2zM233 136h2v2h-2zM237 136h2v2h-2zM255 136h2v2h-2zM265 136h2v2h-2zM199 138h2v2h-2zM211 138h2v2h-2zM235 138h2v2h-2zM249 138h2v2h-2zM253 138h2v2h-2zM263 138h2v2h-2zM217 140h2v2h-2zM207 142h2v2h-2zM237 142h2v2h-2zM241 142h2v2h-2zM197 144h2v2h-2zM201 144h4v2h-4zM213 146h2v2h-2zM201 148h2v2h-2zM209 148h4v2h-4zM231 148h2v2h-2zM203 150h4v2h-4zM209 152h2v2h-2zM265 156h4v2h-4zM205 158h2v2h-2zM211 158h2v2h-2zM205 160h2v2h-2zM211 160h4v2h-4zM217 160h2v2h-2zM233 160h2v2h-2zM211 164h4v2h-4zM293 164h2v2h-2zM241 166h4v2h-4zM247 166h2v2h-2zM231 168h2v2h-2zM251 168h2v2h-2zM209 170h2v2h-2zM241 170h2v2h-2zM253 170h2v2h-2zM249 172h2v2h-2zM253 172h2v2h-2zM269 172h2v2h-2zM225 174h2v2h-2zM229 174h2v2h-2zM243 174h2v2h-2zM255 174h2v2h-2zM247 176h2v2h-2zM231 178h2v2h-2zM209 180h2v2h-2zM229 180h4v2h-4zM223 182h2v2h-2zM231 182h2v2h-2zM213 184h2v2h-2zM227 184h2v2h-2zM231 184h4v2h-4zM231 186h2v2h-2zM237 186h2v2h-2zM237 190h2v2h-2zM235 196h2v2h-2zM239 200h2v2h-2zM253 200h2v2h-2zM249 204h2v2h-2zM237 206h4v2h-4zM241 214h2v2h-2z"/>
<path fill="#0040ff" d="M231 30h2v2h-2zM257 38h2v2h-2zM255 40h2v2h-2zM207 54h2v2h-2zM223 62h2v2h-2zM215 66h2v2h-2zM233 68h2v2h-2zM257 68h2v2h-2zM279 72h2v2h-2zM185 78h2v2h-2zM177 80h2v2h-2zM171 84h2v2h-2zM259 84h2v2h-2zM265 88h2v2h-2zM285 92h2v2h-2zM243 94h2v2h-2zM181 96h2v2h-2zM173 100h2v2h-2zM173 104h2v2h-2zM183 104h4v2h-4zM175 106h2v2h-2zM263 106h2v2h-2zM169 112h2v2h-2zM265 112h2v2h-2zM293 114h2v2h-2zM253 116h2v2h-2zM275 118h2v2h-2zM271 120h2v2h-2zM279 122h2v2h-2zM239 128h2v2h-2zM271 128h2v2h-2zM277 128h2v2h-2zM163 130h2v2h-2zM229 130h2v2h-2zM197 134h2v2h-2zM233 138h2v2h-2zM265 140h2v2h-2zM213 142h2v2h-2zM203 148h2v2h-2zM189 160h2v2h-2zM203 160h2v2h-2zM209 160h2v2h-2zM221 160h2v2h-2zM245 160h2v2h-2zM217 162h2v2h-2zM243 162h2v2h-2zM235 166h6v2h-6zM251 166h2v2h-2zM239 170h2v2h-2zM243 178h2v2h-2zM249 178h2v2h-2zM235 184h2v2h-2zM241 210h2v2h-2z"/>
<path fill="#2600fc" d="M235 30h2v2h-2zM239 30h2v2h-2zM257 30h2v2h-2zM225 32h4v2h-4zM231 32h2v2h-2zM239 32h4v2h-4zM243 34h2v2h-2zM231 38h2v2h-2zM231 40h2v2h-2zM243 40h2v2h-2zM253 40h2v2h-2zM247 44h2v2h-2zM257 46h2v2h-2zM263 46h2v2h-2zM223 50h2v2h-2zM247 50h2v2h-2zM257 50h2v2h-2zM211 52h4v2h-4zM223 52h2v2h-2zM249 52h2v2h-2zM205 54h2v2h-2zM223 54h2v2h-2zM251 54h2v2h-2zM201 58h2v2h-2zM227 58h2v2h-2zM209 60h2v2h-2zM227 60h2v2h-2zM201 62h2v2h-2zM231 62h2v2h-2zM283 62h2v2h-2zM209 64h4v2h-4zM271 64h2v2h-2zM289 64h2v2h-2zM227 66h2v2h-2zM231 66h2v2h-2zM287 66h2v2h-2zM293 66h2v2h-2zM231 68h2v2h-2zM275 68h2v2h-2zM279 68h2v2h-2zM219 70h2v2h-2zM231 70h2v2h-2zM279 70h2v2h-2zM183 76h2v2h-2zM207 76h2v2h-2zM289 76h2v2h-2zM293 76h2v2h-2zM219 78h2v2h-2zM279 78h2v2h-2zM287 78h2v2h-2zM295 78h2v2h-2zM181 80h2v2h-2zM189 80h2v2h-2zM283 80h2v2h-2zM185 82h4v2h-4zM251 84h2v2h-2zM277 84h2v2h-2zM181 86h2v2h-2zM245 86h2v2h-2zM251 86h4v2h-4zM263 86h2v2h-2zM267 86h2v2h-2zM195 88h2v2h-2zM251 88h2v2h-2zM191 90h2v2h-2zM271 90h2v2h-2zM279 90h2v2h-2zM179 92h2v2h-2zM183 92h4v2h-4zM245 92h2v2h-2zM273 92h2v2h-2zM281 92h4v2h-4zM175 94h2v2h-2zM179 94h2v2h-2zM193 94h2v2h-2zM247 94h2v2h-2zM263 94h2v2h-2zM179 96h2v2h-2zM251 96h2v2h-2zM255 96h2v2h-2zM191 98h2v2h-2zM275 98h4v2h-4zM189 100h2v2h-2zM259 100h4v2h-4zM271 100h2v2h-2zM157 102h2v2h-2zM179 102h2v2h-2zM247 102h2v2h-2zM271 102h2v2h-2zM259 104h4v2h-4zM267 104h2v2h-2zM271 104h2v2h-2zM167 106h2v2h-2zM171 106h2v2h-2zM251 106h2v2h-2zM257 106h4v2h-4zM167 108h4v2h-4zM187 108h2v2h-2zM191 108h2v2h-2zM249 108h2v2h-2zM263 108h2v2h-2zM273 108h2v2h-2zM315 108h2v2h-2zM255 110h2v2h-2zM265 110h2v2h-2zM277 110h2v2h-2zM179 112h2v2h-2zM183 112h2v2h-2zM251 112h2v2h-2zM259 112h2v2h-2zM275 112h6v2h-6zM283 112h2v2h-2zM281 114h2v2h-2zM289 114h2v2h-2zM201 116h2v2h-2zM261 116h2v2h-2zM271 116h2v2h-2zM179 118h2v2h-2zM189 118h2v2h-2zM201 118h2v2h-2zM267 118h2v2h-2zM273 118h2v2h-2zM277 118h2v2h-2zM287 118h2v2h-2zM291 118h4v2h-4zM181 120h2v2h-2zM193 120h2v2h-2zM247 120h2v2h-2zM253 120h2v2h-2zM275 120h2v2h-2zM297 120h2v2h-2zM253 122h2v2h-2zM257 122h4v2h-4zM285 122h2v2h-2zM175 124h2v2h-2zM233 124h2v2h-2zM261 124h2v2h-2zM265 124h2v2h-2zM273 124h2v2h-2zM279 124h2v2h-2zM169 126h4v2h-4zM237 126h2v2h-2zM243 126h2v2h-2zM251 126h2v2h-2zM285 126h2v2h-2zM207 128h2v2h-2zM249 128h2v2h-2zM285 128h2v2h-2zM173 130h2v2h-2zM255 130h2v2h-2zM161 132h4v2h-4zM203 132h2v2h-2zM207 132h2v2h-2zM253 132h2v2h-2zM195 134h2v2h-2zM199 134h2v2h-2zM235 134h2v2h-2zM241 134h2v2h-2zM247 134h2v2h-2zM255 134h2v2h-2zM197 136h4v2h-4zM221 136h2v2h-2zM251 136h2v2h-2zM257 136h2v2h-2zM261 136h2v2h-2zM203 138h2v2h-2zM225 138h4v2h-4zM249 140h2v2h-2zM205 142h2v2h-2zM211 142h2v2h-2zM233 142h2v2h-2zM207 144h2v2h-2zM215 144h2v2h-2zM219 144h2v2h-2zM219 146h2v2h-2zM199 148h2v2h-2zM217 152h2v2h-2zM233 152h2v2h-2zM213 154h4v2h-4zM219 156h2v2h-2zM207 158h4v2h-4zM201 160h2v2h-2zM225 160h2v2h-2zM231 160h2v2h-2zM219 162h2v2h-2zM233 162h2v2h-2zM249 162h2v2h-2zM209 166h2v2h-2zM217 166h2v2h-2zM209 168h4v2h-4zM217 170h2v2h-2zM221 172h2v2h-2zM213 174h2v2h-2zM227 174h2v2h-2zM245 174h2v2h-2zM207 176h2v2h-2zM241 176h2v2h-2zM245 176h2v2h-2zM249 176h2v2h-2zM211 178h2v2h-2zM245 178h2v2h-2zM223 180h2v2h-2zM233 180h2v2h-2zM207 182h2v2h-2zM217 182h2v2h-2zM211 184h2v2h-2zM215 184h4v2h-4zM209 186h4v2h-4zM227 186h4v2h-4zM229 188h2v2h-2zM227 190h2v2h-2zM231 190h2v2h-2zM227 192h2v2h-2zM229 194h2v2h-2zM237 202h2v2h-2zM225 204h2v2h-2zM243 204h2v2h-2zM237 208h2v2h-2zM247 208h2v2h-2zM251 208h2v2h-2zM249 210h2v2h-2zM241 216h2v2h-2z"/>
<path fill="#1116ff" d="M243 30h2v2h-2zM231 34h2v2h-2zM225 36h2v2h-2zM229 38h2v2h-2zM241 40h2v2h-2zM233 42h2v2h-2zM243 42h2v2h-2zM253 42h2v2h-2zM255 44h2v2h-2zM251 46h2v2h-2zM247 48h4v2h-4zM211 50h2v2h-2zM227 52h2v2h-2zM247 52h2v2h-2zM209 54h2v2h-2zM221 54h2v2h-2zM253 54h2v2h-2zM223 60h2v2h-2zM229 60h2v2h-2zM221 62h2v2h-2zM231 64h2v2h-2zM229 68h2v2h-2zM229 70h2v2h-2zM289 70h2v2h-2zM209 72h2v2h-2zM213 72h2v2h-2zM219 72h2v2h-2zM275 72h4v2h-4zM283 72h2v2h-2zM299 72h2v2h-2zM215 74h4v2h-4zM275 74h2v2h-2zM299 74h2v2h-2zM187 76h2v2h-2zM211 76h2v2h-2zM257 76h2v2h-2zM215 78h2v2h-2zM221 78h2v2h-2zM269 78h2v2h-2zM297 78h2v2h-2zM175 80h2v2h-2zM179 80h2v2h-2zM187 80h2v2h-2zM219 80h2v2h-2zM279 80h2v2h-2zM271 82h2v2h-2zM275 82h2v2h-2zM281 82h2v2h-2zM287 82h2v2h-2zM183 84h2v2h-2zM265 84h2v2h-2zM249 86h2v2h-2zM269 86h2v2h-2zM169 88h2v2h-2zM277 88h2v2h-2zM287 88h2v2h-2zM173 90h2v2h-2zM177 90h2v2h-2zM185 90h2v2h-2zM189 90h2v2h-2zM257 90h2v2h-2zM263 90h2v2h-2zM259 92h2v2h-2zM173 94h2v2h-2zM181 94h2v2h-2zM189 94h2v2h-2zM245 94h2v2h-2zM273 94h2v2h-2zM277 94h2v2h-2zM281 94h2v2h-2zM165 96h2v2h-2zM175 96h2v2h-2zM193 96h2v2h-2zM247 96h2v2h-2zM263 96h2v2h-2zM281 96h2v2h-2zM163 98h2v2h-2zM179 98h2v2h-2zM183 98h2v2h-2zM245 98h2v2h-2zM263 98h2v2h-2zM175 100h2v2h-2zM185 100h2v2h-2zM241 100h2v2h-2zM255 100h2v2h-2zM265 100h2v2h-2zM275 100h2v2h-2zM163 102h4v2h-4zM185 102h4v2h-4zM251 102h2v2h-2zM259 102h2v2h-2zM157 104h2v2h-2zM167 104h2v2h-2zM165 106h2v2h-2zM169 106h2v2h-2zM187 106h2v2h-2zM243 106h2v2h-2zM261 106h2v2h-2zM271 106h2v2h-2zM179 108h2v2h-2zM185 108h2v2h-2zM321 108h2v2h-2zM177 110h2v2h-2zM183 110h2v2h-2zM189 110h2v2h-2zM243 110h2v2h-2zM257 110h2v2h-2zM313 110h2v2h-2zM171 112h2v2h-2zM253 112h2v2h-2zM261 112h4v2h-4zM269 112h2v2h-2zM285 112h2v2h-2zM179 114h2v2h-2zM283 114h4v2h-4zM217 116h2v2h-2zM267 116h4v2h-4zM299 116h2v2h-2zM257 118h2v2h-2zM271 118h2v2h-2zM285 118h2v2h-2zM189 120h2v2h-2zM265 120h2v2h-2zM269 120h2v2h-2zM279 120h2v2h-2zM291 120h4v2h-4zM187 122h2v2h-2zM243 122h2v2h-2zM251 122h2v2h-2zM267 122h2v2h-2zM277 122h2v2h-2zM281 122h2v2h-2zM181 124h2v2h-2zM239 124h4v2h-4zM183 126h6v2h-6zM241 126h2v2h-2zM259 126h4v2h-4zM185 128h2v2h-2zM199 128h2v2h-2zM231 128h2v2h-2zM257 128h2v2h-2zM233 130h2v2h-2zM253 130h2v2h-2zM263 130h2v2h-2zM269 130h2v2h-2zM273 130h2v2h-2zM165 132h2v2h-2zM205 132h2v2h-2zM235 132h4v2h-4zM247 132h2v2h-2zM161 134h2v2h-2zM211 134h4v2h-4zM229 134h2v2h-2zM201 136h2v2h-2zM225 136h2v2h-2zM201 138h2v2h-2zM207 138h2v2h-2zM231 138h2v2h-2zM251 138h2v2h-2zM219 140h2v2h-2zM239 140h4v2h-4zM219 142h2v2h-2zM199 144h2v2h-2zM211 144h2v2h-2zM201 146h2v2h-2zM239 146h2v2h-2zM197 148h2v2h-2zM213 148h4v2h-4zM209 150h2v2h-2zM213 150h2v2h-2zM201 152h4v2h-4zM211 152h2v2h-2zM217 156h2v2h-2zM217 158h2v2h-2zM219 160h2v2h-2zM235 160h2v2h-2zM213 162h2v2h-2zM247 162h2v2h-2zM247 164h2v2h-2zM211 166h4v2h-4zM221 166h2v2h-2zM245 166h2v2h-2zM229 168h2v2h-2zM241 168h2v2h-2zM221 170h4v2h-4zM215 172h2v2h-2zM245 172h2v2h-2zM207 174h2v2h-2zM237 174h2v2h-2zM247 174h2v2h-2zM227 176h2v2h-2zM233 176h2v2h-2zM233 178h2v2h-2zM237 178h2v2h-2zM209 182h2v2h-2zM233 182h2v2h-2zM233 186h2v2h-2zM235 188h2v2h-2zM239 190h2v2h-2zM223 192h2v2h-2zM229 192h2v2h-2zM231 194h4v2h-4zM237 198h2v2h-2zM241 198h2v2h-2zM251 200h2v2h-2zM227 202h2v2h-2zM239 202h2v2h-2zM241 206h2v2h-2zM249 208h2v2h-2z"/>
<path fill="#1eff02" d="M221 36h2v2h-2zM221 38h2v2h-2zM223 40h2v2h-2zM223 42h2v2h-2zM229 42h2v2h-2zM241 42h2v2h-2zM219 46h2v2h-2zM233 46h2v2h-2zM231 48h2v2h-2zM235 50h2v2h-2zM239 50h2v2h-2zM233 52h4v2h-4zM239 52h2v2h-2zM237 54h2v2h-2zM237 56h2v2h-2zM243 56h2v2h-2zM261 56h2v2h-2zM265 56h2v2h-2zM237 60h2v2h-2zM255 60h2v2h-2zM261 60h2v2h-2zM259 62h2v2h-2zM245 64h2v2h-2zM249 64h2v2h-2zM237 66h2v2h-2zM251 66h2v2h-2zM263 66h2v2h-2zM247 68h2v2h-2zM245 70h2v2h-2zM237 74h2v2h-2zM237 78h2v2h-2zM301 80h2v2h-2zM207 82h2v2h-2zM229 82h2v2h-2zM245 82h2v2h-2zM229 84h2v2h-2zM309 84h2v2h-2zM207 86h2v2h-2zM223 86h6v2h-6zM241 86h2v2h-2zM207 88h2v2h-2zM231 88h2v2h-2zM235 88h2v2h-2zM305 88h2v2h-2zM315 88h2v2h-2zM205 90h2v2h-2zM227 90h2v2h-2zM311 90h2v2h-2zM199 94h2v2h-2zM225 94h2v2h-2zM301 94h2v2h-2zM205 96h2v2h-2zM225 96h2v2h-2zM291 96h2v2h-2zM317 96h2v2h-2zM193 98h2v2h-2zM211 98h2v2h-2zM225 98h2v2h-2zM307 98h4v2h-4zM315 98h2v2h-2zM323 98h2v2h-2zM205 100h2v2h-2zM211 100h4v2h-4zM203 102h2v2h-2zM215 102h2v2h-2zM227 102h4v2h-4zM299 102h2v2h-2zM305 102h2v2h-2zM219 104h2v2h-2zM229 104h2v2h-2zM235 104h2v2h-2zM285 104h4v2h-4zM291 104h2v2h-2zM299 104h2v2h-2zM295 106h2v2h-2zM317 106h2v2h-2zM225 108h2v2h-2zM233 108h2v2h-2zM225 110h2v2h-2zM297 110h4v2h-4zM225 114h2v2h-2zM209 116h2v2h-2zM291 116h2v2h-2zM313 116h2v2h-2zM319 118h2v2h-2zM207 120h2v2h-2zM315 120h2v2h-2zM321 120h4v2h-4zM303 122h2v2h-2zM215 124h2v2h-2zM287 124h2v2h-2zM323 124h2v2h-2zM199 126h6v2h-6zM295 126h2v2h-2zM299 126h2v2h-2zM319 126h4v2h-4zM287 128h2v2h-2zM303 128h2v2h-2zM317 128h2v2h-2zM321 128h2v2h-2zM329 128h4v2h-4zM315 130h2v2h-2zM199 132h2v2h-2zM307 132h2v2h-2zM303 134h2v2h-2zM311 134h2v2h-2zM303 136h2v2h-2zM309 136h2v2h-2zM315 136h2v2h-2zM179 138h2v2h-2zM317 138h2v2h-2zM323 138h2v2h-2zM259 140h2v2h-2zM285 140h2v2h-2zM315 140h2v2h-2zM183 142h2v2h-2zM255 142h2v2h-2zM259 142h2v2h-2zM283 142h2v2h-2zM291 142h2v2h-2zM307 142h2v2h-2zM315 142h6v2h-6zM251 144h2v2h-2zM285 144h2v2h-2zM257 146h2v2h-2zM281 146h2v2h-2zM309 146h2v2h-2zM239 148h2v2h-2zM243 148h2v2h-2zM253 148h2v2h-2zM263 148h2v2h-2zM271 148h2v2h-2zM303 148h2v2h-2zM241 150h2v2h-2zM247 150h2v2h-2zM253 150h2v2h-2zM301 150h2v2h-2zM239 152h2v2h-2zM289 152h4v2h-4zM299 152h2v2h-2zM243 154h2v2h-2zM247 154h2v2h-2zM251 154h2v2h-2zM261 154h6v2h-6zM275 154h4v2h-4zM287 154h2v2h-2zM257 156h2v2h-2zM287 156h2v2h-2zM291 156h2v2h-2zM305 156h2v2h-2zM291 158h2v2h-2zM301 158h4v2h-4zM259 160h2v2h-2zM287 160h2v2h-2zM227 162h2v2h-2zM255 162h2v2h-2zM261 162h2v2h-2zM229 164h2v2h-2zM251 164h2v2h-2zM259 164h2v2h-2zM225 166h2v2h-2zM291 166h2v2h-2zM295 166h2v2h-2zM257 168h2v2h-2zM277 168h2v2h-2zM289 168h2v2h-2zM277 170h2v2h-2zM233 172h2v2h-2zM285 174h2v2h-2zM261 178h4v2h-4zM273 180h2v2h-2zM243 182h2v2h-2zM249 182h2v2h-2zM263 182h2v2h-2zM251 184h4v2h-4zM269 184h2v2h-2zM275 184h2v2h-2zM265 186h2v2h-2zM249 190h2v2h-2zM261 190h4v2h-4zM257 192h2v2h-2zM255 200h2v2h-2zM255 202h2v2h-2z"/>
<path fill="#0eff12" d="M223 36h2v2h-2zM227 40h2v2h-2zM229 48h2v2h-2zM233 48h2v2h-2zM237 48h2v2h-2zM265 54h2v2h-2zM253 56h2v2h-2zM251 58h2v2h-2zM267 58h2v2h-2zM265 60h2v2h-2zM237 62h2v2h-2zM257 62h2v2h-2zM245 68h2v2h-2zM249 70h2v2h-2zM245 72h2v2h-2zM261 72h2v2h-2zM235 76h2v2h-2zM239 82h2v2h-2zM243 82h2v2h-2zM211 84h2v2h-2zM231 84h2v2h-2zM243 86h2v2h-2zM305 86h4v2h-4zM221 88h2v2h-2zM197 90h2v2h-2zM229 90h4v2h-4zM215 92h2v2h-2zM305 92h2v2h-2zM195 94h2v2h-2zM201 94h2v2h-2zM297 94h2v2h-2zM211 96h2v2h-2zM315 96h2v2h-2zM201 98h2v2h-2zM201 100h2v2h-2zM221 100h2v2h-2zM235 100h2v2h-2zM303 100h2v2h-2zM321 100h2v2h-2zM219 102h2v2h-2zM237 102h2v2h-2zM319 102h2v2h-2zM225 104h2v2h-2zM289 104h2v2h-2zM307 104h2v2h-2zM315 104h2v2h-2zM323 104h2v2h-2zM219 106h2v2h-2zM285 106h2v2h-2zM289 106h2v2h-2zM221 108h2v2h-2zM301 110h2v2h-2zM225 112h2v2h-2zM227 116h2v2h-2zM307 118h2v2h-2zM321 118h2v2h-2zM307 120h2v2h-2zM211 122h2v2h-2zM289 122h2v2h-2zM295 122h2v2h-2zM203 124h2v2h-2zM291 124h2v2h-2zM315 124h2v2h-2zM319 124h2v2h-2zM219 126h2v2h-2zM223 126h2v2h-2zM329 126h4v2h-4zM203 128h2v2h-2zM319 128h2v2h-2zM323 128h2v2h-2zM199 130h4v2h-4zM299 130h2v2h-2zM321 130h2v2h-2zM223 132h2v2h-2zM297 132h2v2h-2zM305 132h2v2h-2zM329 132h2v2h-2zM275 134h2v2h-2zM293 134h2v2h-2zM299 134h2v2h-2zM313 134h2v2h-2zM319 134h2v2h-2zM325 134h2v2h-2zM189 136h2v2h-2zM277 136h2v2h-2zM291 136h2v2h-2zM313 136h2v2h-2zM193 138h2v2h-2zM205 138h2v2h-2zM275 138h2v2h-2zM291 138h2v2h-2zM193 140h2v2h-2zM199 140h2v2h-2zM207 140h2v2h-2zM273 140h2v2h-2zM289 140h2v2h-2zM303 140h2v2h-2zM311 140h2v2h-2zM319 140h2v2h-2zM177 142h4v2h-4zM287 142h2v2h-2zM193 144h2v2h-2zM245 144h2v2h-2zM253 144h2v2h-2zM263 144h2v2h-2zM293 144h2v2h-2zM307 144h2v2h-2zM185 146h2v2h-2zM303 146h2v2h-2zM307 146h2v2h-2zM315 146h2v2h-2zM181 148h2v2h-2zM255 148h2v2h-2zM259 148h2v2h-2zM287 148h2v2h-2zM301 148h2v2h-2zM193 150h2v2h-2zM243 150h2v2h-2zM255 150h2v2h-2zM261 150h2v2h-2zM287 150h2v2h-2zM305 150h2v2h-2zM279 152h4v2h-4zM259 154h2v2h-2zM273 154h2v2h-2zM281 154h2v2h-2zM295 154h2v2h-2zM239 156h2v2h-2zM245 156h2v2h-2zM277 156h2v2h-2zM247 158h2v2h-2zM259 158h2v2h-2zM263 160h6v2h-6zM253 162h2v2h-2zM269 162h2v2h-2zM263 164h6v2h-6zM271 164h4v2h-4zM293 166h2v2h-2zM259 168h4v2h-4zM291 168h2v2h-2zM275 170h2v2h-2zM287 170h2v2h-2zM259 176h2v2h-2zM273 178h2v2h-2zM277 178h4v2h-4zM253 180h2v2h-2zM269 180h4v2h-4zM275 180h2v2h-2zM245 182h2v2h-2zM259 182h2v2h-2zM267 182h2v2h-2zM271 182h2v2h-2zM243 186h4v2h-4zM249 188h2v2h-2zM257 188h2v2h-2zM263 188h2v2h-2zM243 190h2v2h-2zM255 190h2v2h-2zM243 192h2v2h-2zM249 192h2v2h-2zM251 194h2v2h-2zM253 198h2v2h-2zM261 198h2v2h-2zM259 200h2v2h-2zM249 202h2v2h-2z"/>
<path fill="#00b2ff" d="M263 36h2v2h-2zM215 48h2v2h-2zM239 48h2v2h-2zM265 48h2v2h-2zM227 50h2v2h-2zM255 50h2v2h-2zM271 50h4v2h-4zM269 52h2v2h-2zM275 52h2v2h-2zM271 54h2v2h-2zM249 56h2v2h-2zM281 56h2v2h-2zM281 58h2v2h-2zM283 60h2v2h-2zM281 62h2v2h-2zM205 64h2v2h-2zM281 64h2v2h-2zM191 66h4v2h-4zM197 66h2v2h-2zM203 66h2v2h-2zM259 66h2v2h-2zM273 66h2v2h-2zM277 66h2v2h-2zM193 68h2v2h-2zM203 68h2v2h-2zM271 68h2v2h-2zM197 70h2v2h-2zM201 70h2v2h-2zM241 70h2v2h-2zM187 72h2v2h-2zM223 72h4v2h-4zM253 72h2v2h-2zM267 72h2v2h-2zM201 74h2v2h-2zM243 74h2v2h-2zM259 74h6v2h-6zM201 76h2v2h-2zM259 76h6v2h-6zM279 76h4v2h-4zM197 78h2v2h-2zM247 78h2v2h-2zM191 80h2v2h-2zM199 80h2v2h-2zM203 80h2v2h-2zM213 80h2v2h-2zM245 80h2v2h-2zM253 80h2v2h-2zM265 80h2v2h-2zM191 82h2v2h-2zM195 82h2v2h-2zM295 82h2v2h-2zM237 84h2v2h-2zM195 86h2v2h-2zM301 86h2v2h-2zM173 88h2v2h-2zM237 88h2v2h-2zM291 88h2v2h-2zM297 92h2v2h-2zM303 92h2v2h-2zM163 94h2v2h-2zM239 94h2v2h-2zM159 96h2v2h-2zM157 98h2v2h-2zM171 98h2v2h-2zM231 98h2v2h-2zM239 98h2v2h-2zM281 98h4v2h-4zM199 100h2v2h-2zM171 102h2v2h-2zM197 102h2v2h-2zM283 102h4v2h-4zM325 102h2v2h-2zM207 104h2v2h-2zM265 104h2v2h-2zM317 108h2v2h-2zM331 108h2v2h-2zM193 110h2v2h-2zM201 110h4v2h-4zM207 110h2v2h-2zM285 110h2v2h-2zM195 112h2v2h-2zM223 112h2v2h-2zM313 112h2v2h-2zM323 112h2v2h-2zM327 112h2v2h-2zM335 112h2v2h-2zM187 114h2v2h-2zM193 114h2v2h-2zM307 114h2v2h-2zM325 114h2v2h-2zM213 116h2v2h-2zM333 116h4v2h-4zM219 118h2v2h-2zM229 118h2v2h-2zM233 118h2v2h-2zM185 120h2v2h-2zM197 120h2v2h-2zM217 120h2v2h-2zM229 120h2v2h-2zM327 120h2v2h-2zM331 120h2v2h-2zM341 120h2v2h-2zM335 122h2v2h-2zM175 126h2v2h-2zM325 126h2v2h-2zM335 126h2v2h-2zM279 128h2v2h-2zM187 130h2v2h-2zM259 130h2v2h-2zM171 132h2v2h-2zM187 132h2v2h-2zM221 132h2v2h-2zM229 132h2v2h-2zM319 132h2v2h-2zM175 136h2v2h-2zM187 136h2v2h-2zM191 136h2v2h-2zM173 140h2v2h-2zM185 142h2v2h-2zM177 144h2v2h-2zM227 144h4v2h-4zM233 144h2v2h-2zM269 144h2v2h-2zM223 146h4v2h-4zM233 146h2v2h-2zM237 146h2v2h-2zM265 146h4v2h-4zM229 148h2v2h-2zM175 150h2v2h-2zM227 150h2v2h-2zM233 150h2v2h-2zM265 150h2v2h-2zM177 152h2v2h-2zM221 152h2v2h-2zM225 152h2v2h-2zM243 152h2v2h-2zM293 152h2v2h-2zM179 154h2v2h-2zM179 156h2v2h-2zM185 156h4v2h-4zM209 156h2v2h-2zM227 156h2v2h-2zM231 156h4v2h-4zM269 156h2v2h-2zM299 156h2v2h-2zM185 158h2v2h-2zM201 158h2v2h-2zM183 160h2v2h-2zM193 160h2v2h-2zM239 162h2v2h-2zM201 164h4v2h-4zM231 164h2v2h-2zM189 166h2v2h-2zM199 166h2v2h-2zM191 168h2v2h-2zM199 168h2v2h-2zM227 168h2v2h-2zM233 168h2v2h-2zM237 168h2v2h-2zM227 170h2v2h-2zM255 172h2v2h-2zM259 172h2v2h-2zM201 174h2v2h-2zM265 174h2v2h-2zM271 174h2v2h-2zM201 178h2v2h-2zM251 178h2v2h-2zM267 178h4v2h-4zM243 180h2v2h-2zM239 184h2v2h-2zM245 188h2v2h-2zM241 192h2v2h-2zM251 196h2v2h-2zM243 202h2v2h-2z"/>
<path fill="#00ff23" d="M219 38h2v2h-2zM265 38h2v2h-2zM219 40h2v2h-2zM237 40h2v2h-2zM217 42h4v2h-4zM225 44h4v2h-4zM235 44h2v2h-2zM215 46h2v2h-2zM225 46h2v2h-2zM241 46h2v2h-2zM231 54h4v2h-4zM263 56h2v2h-2zM245 58h2v2h-2zM259 58h2v2h-2zM253 60h2v2h-2zM253 62h2v2h-2zM263 62h2v2h-2zM253 64h2v2h-2zM247 66h2v2h-2zM233 72h2v2h-2zM235 74h2v2h-2zM239 74h2v2h-2zM237 76h4v2h-4zM227 78h4v2h-4zM229 80h2v2h-2zM221 82h2v2h-2zM233 82h2v2h-2zM307 82h2v2h-2zM227 84h2v2h-2zM235 84h2v2h-2zM305 84h2v2h-2zM211 86h4v2h-4zM239 86h2v2h-2zM311 86h2v2h-2zM227 88h4v2h-4zM233 88h2v2h-2zM313 88h2v2h-2zM211 90h2v2h-2zM313 90h2v2h-2zM205 92h2v2h-2zM229 92h2v2h-2zM291 92h2v2h-2zM227 94h2v2h-2zM237 94h2v2h-2zM307 96h2v2h-2zM203 98h2v2h-2zM209 98h2v2h-2zM235 98h4v2h-4zM295 100h2v2h-2zM213 104h2v2h-2zM221 104h2v2h-2zM233 104h2v2h-2zM313 104h2v2h-2zM301 106h2v2h-2zM305 106h6v2h-6zM313 106h4v2h-4zM229 108h2v2h-2zM235 108h2v2h-2zM285 108h2v2h-2zM229 110h2v2h-2zM287 110h2v2h-2zM223 114h2v2h-2zM229 114h2v2h-2zM205 116h2v2h-2zM283 116h2v2h-2zM195 118h2v2h-2zM315 118h2v2h-2zM281 120h2v2h-2zM311 120h2v2h-2zM223 122h2v2h-2zM301 122h2v2h-2zM319 122h2v2h-2zM301 124h2v2h-2zM307 124h6v2h-6zM289 126h2v2h-2zM293 126h2v2h-2zM303 126h4v2h-4zM313 126h2v2h-2zM317 126h2v2h-2zM323 126h2v2h-2zM201 128h2v2h-2zM221 128h2v2h-2zM225 128h2v2h-2zM293 128h2v2h-2zM309 128h2v2h-2zM313 128h4v2h-4zM327 128h2v2h-2zM301 130h2v2h-2zM305 130h2v2h-2zM309 130h2v2h-2zM277 132h2v2h-2zM301 132h2v2h-2zM311 132h2v2h-2zM277 134h2v2h-2zM281 134h2v2h-2zM295 134h2v2h-2zM309 134h2v2h-2zM271 136h4v2h-4zM321 136h2v2h-2zM271 138h2v2h-2zM277 138h2v2h-2zM305 138h8v2h-8zM275 140h2v2h-2zM287 140h2v2h-2zM191 142h4v2h-4zM285 142h2v2h-2zM297 142h2v2h-2zM313 142h2v2h-2zM179 144h2v2h-2zM255 144h2v2h-2zM259 144h2v2h-2zM271 144h2v2h-2zM291 144h2v2h-2zM317 144h2v2h-2zM183 146h2v2h-2zM193 146h2v2h-2zM247 146h4v2h-4zM279 146h2v2h-2zM285 146h2v2h-2zM299 146h4v2h-4zM305 146h2v2h-2zM311 146h2v2h-2zM241 148h2v2h-2zM281 148h2v2h-2zM299 148h2v2h-2zM183 150h2v2h-2zM263 150h2v2h-2zM299 150h2v2h-2zM307 150h2v2h-2zM193 152h2v2h-2zM267 152h2v2h-2zM283 152h2v2h-2zM239 154h2v2h-2zM279 154h2v2h-2zM283 154h2v2h-2zM261 156h2v2h-2zM253 158h2v2h-2zM257 158h2v2h-2zM275 158h2v2h-2zM285 158h2v2h-2zM253 160h6v2h-6zM273 160h2v2h-2zM273 162h2v2h-2zM291 162h2v2h-2zM295 162h2v2h-2zM225 164h2v2h-2zM291 164h2v2h-2zM255 166h2v2h-2zM263 166h4v2h-4zM267 168h2v2h-2zM263 170h2v2h-2zM289 170h2v2h-2zM263 172h4v2h-4zM275 172h2v2h-2zM281 172h2v2h-2zM279 174h2v2h-2zM257 176h2v2h-2zM271 178h2v2h-2zM255 180h2v2h-2zM277 180h2v2h-2zM247 182h2v2h-2zM255 182h2v2h-2zM255 184h2v2h-2zM247 186h2v2h-2zM253 188h2v2h-2zM261 188h2v2h-2zM255 194h2v2h-2zM255 198h2v2h-2zM257 202h2v2h-2z"/>
<path fill="#16ff0a" d="M223 38h2v2h-2zM217 40h2v2h-2zM221 40h2v2h-2zM215 42h2v2h-2zM225 42h2v2h-2zM231 42h2v2h-2zM219 44h2v2h-2zM229 44h2v2h-2zM233 44h2v2h-2zM223 46h2v2h-2zM241 48h2v2h-2zM233 50h2v2h-2zM269 54h2v2h-2zM231 56h2v2h-2zM237 58h2v2h-2zM241 58h4v2h-4zM249 58h2v2h-2zM253 58h2v2h-2zM263 58h2v2h-2zM251 60h2v2h-2zM259 60h2v2h-2zM243 62h4v2h-4zM249 62h2v2h-2zM267 62h2v2h-2zM239 64h2v2h-2zM259 64h2v2h-2zM263 64h2v2h-2zM243 66h2v2h-2zM241 68h2v2h-2zM253 68h2v2h-2zM263 68h2v2h-2zM261 70h2v2h-2zM225 78h2v2h-2zM207 80h2v2h-2zM211 82h2v2h-2zM223 82h2v2h-2zM241 82h2v2h-2zM217 84h4v2h-4zM243 84h4v2h-4zM307 84h2v2h-2zM217 86h4v2h-4zM233 86h2v2h-2zM203 88h2v2h-2zM211 88h2v2h-2zM293 92h2v2h-2zM307 92h2v2h-2zM205 94h4v2h-4zM303 94h2v2h-2zM307 94h2v2h-2zM311 94h2v2h-2zM195 96h2v2h-2zM199 96h2v2h-2zM203 96h2v2h-2zM213 96h2v2h-2zM287 96h2v2h-2zM311 96h2v2h-2zM197 98h2v2h-2zM205 98h2v2h-2zM297 98h2v2h-2zM313 98h2v2h-2zM317 98h2v2h-2zM203 100h2v2h-2zM297 100h2v2h-2zM311 100h8v2h-8zM213 102h2v2h-2zM233 102h2v2h-2zM301 102h2v2h-2zM307 102h2v2h-2zM317 102h2v2h-2zM323 102h2v2h-2zM215 104h2v2h-2zM305 104h2v2h-2zM309 104h4v2h-4zM319 104h2v2h-2zM225 106h4v2h-4zM233 106h2v2h-2zM237 106h2v2h-2zM287 106h2v2h-2zM291 106h2v2h-2zM297 106h2v2h-2zM237 108h2v2h-2zM287 108h4v2h-4zM231 110h2v2h-2zM295 110h2v2h-2zM293 112h4v2h-4zM299 112h2v2h-2zM223 116h2v2h-2zM315 116h2v2h-2zM207 118h2v2h-2zM211 118h2v2h-2zM221 118h2v2h-2zM225 118h2v2h-2zM211 120h4v2h-4zM313 120h2v2h-2zM201 122h4v2h-4zM225 122h2v2h-2zM305 122h4v2h-4zM323 122h2v2h-2zM201 124h2v2h-2zM205 124h2v2h-2zM289 124h2v2h-2zM295 124h2v2h-2zM303 124h2v2h-2zM225 126h2v2h-2zM311 126h2v2h-2zM289 128h2v2h-2zM295 128h2v2h-2zM307 128h2v2h-2zM311 128h2v2h-2zM221 130h2v2h-2zM283 130h4v2h-4zM327 130h2v2h-2zM201 132h2v2h-2zM295 132h2v2h-2zM297 134h2v2h-2zM269 136h2v2h-2zM279 136h4v2h-4zM301 136h2v2h-2zM311 136h2v2h-2zM315 138h2v2h-2zM319 138h4v2h-4zM257 140h2v2h-2zM317 140h2v2h-2zM321 140h2v2h-2zM181 142h2v2h-2zM273 142h4v2h-4zM301 142h2v2h-2zM273 144h6v2h-6zM281 144h2v2h-2zM287 144h2v2h-2zM315 144h2v2h-2zM191 146h2v2h-2zM195 146h2v2h-2zM273 146h2v2h-2zM277 146h2v2h-2zM289 146h2v2h-2zM295 146h2v2h-2zM193 148h2v2h-2zM237 148h2v2h-2zM261 148h2v2h-2zM291 148h4v2h-4zM237 150h2v2h-2zM289 150h2v2h-2zM293 150h2v2h-2zM303 150h2v2h-2zM253 152h2v2h-2zM265 152h2v2h-2zM273 152h2v2h-2zM303 152h4v2h-4zM245 154h2v2h-2zM269 154h2v2h-2zM307 154h2v2h-2zM241 156h2v2h-2zM279 156h2v2h-2zM251 158h2v2h-2zM261 158h2v2h-2zM249 160h2v2h-2zM275 160h2v2h-2zM283 160h2v2h-2zM289 160h2v2h-2zM263 162h2v2h-2zM267 162h2v2h-2zM293 162h2v2h-2zM257 166h4v2h-4zM267 166h2v2h-2zM275 166h2v2h-2zM289 166h2v2h-2zM273 168h2v2h-2zM285 168h2v2h-2zM257 170h2v2h-2zM273 172h2v2h-2zM277 174h2v2h-2zM283 174h2v2h-2zM263 176h4v2h-4zM273 176h2v2h-2zM283 176h2v2h-2zM245 180h2v2h-2zM251 180h2v2h-2zM251 182h4v2h-4zM257 182h2v2h-2zM269 182h2v2h-2zM241 184h4v2h-4zM259 184h2v2h-2zM253 186h4v2h-4zM263 186h2v2h-2zM251 192h2v2h-2zM261 194h2v2h-2zM257 200h2v2h-2z"/>
<path fill="#2fff00" d="M225 38h2v2h-2zM227 42h2v2h-2zM229 46h2v2h-2zM217 48h2v2h-2zM227 48h2v2h-2zM263 52h2v2h-2zM241 54h2v2h-2zM263 54h2v2h-2zM261 58h2v2h-2zM243 60h2v2h-2zM257 64h2v2h-2zM249 66h2v2h-2zM249 68h2v2h-2zM255 68h2v2h-2zM285 72h2v2h-2zM225 80h2v2h-2zM305 80h2v2h-2zM215 84h2v2h-2zM223 84h2v2h-2zM241 84h2v2h-2zM205 86h2v2h-2zM241 88h2v2h-2zM309 88h4v2h-4zM221 90h2v2h-2zM235 90h2v2h-2zM307 90h2v2h-2zM197 94h2v2h-2zM229 94h2v2h-2zM197 96h2v2h-2zM297 96h2v2h-2zM313 96h2v2h-2zM219 100h2v2h-2zM301 100h2v2h-2zM221 102h2v2h-2zM231 102h2v2h-2zM321 102h2v2h-2zM211 104h2v2h-2zM221 106h4v2h-4zM235 110h2v2h-2zM305 116h2v2h-2zM319 116h2v2h-2zM209 118h2v2h-2zM309 118h2v2h-2zM313 122h2v2h-2zM317 122h2v2h-2zM223 124h2v2h-2zM297 124h2v2h-2zM287 126h2v2h-2zM307 126h2v2h-2zM223 128h2v2h-2zM311 130h2v2h-2zM283 132h2v2h-2zM313 132h2v2h-2zM327 132h2v2h-2zM327 134h2v2h-2zM307 136h2v2h-2zM293 138h4v2h-4zM177 140h2v2h-2zM291 140h2v2h-2zM299 140h2v2h-2zM305 140h2v2h-2zM271 142h2v2h-2zM311 142h2v2h-2zM247 144h2v2h-2zM257 144h2v2h-2zM301 144h2v2h-2zM179 146h2v2h-2zM275 146h2v2h-2zM297 146h2v2h-2zM251 148h2v2h-2zM277 148h2v2h-2zM289 148h2v2h-2zM179 150h2v2h-2zM251 150h2v2h-2zM271 152h2v2h-2zM275 152h2v2h-2zM301 152h2v2h-2zM291 154h2v2h-2zM297 154h2v2h-2zM305 154h2v2h-2zM259 156h2v2h-2zM241 158h2v2h-2zM277 158h2v2h-2zM251 162h2v2h-2zM257 162h2v2h-2zM259 170h2v2h-2zM273 170h2v2h-2zM283 170h2v2h-2zM279 172h2v2h-2zM271 176h2v2h-2zM257 178h2v2h-2zM267 180h2v2h-2zM261 184h6v2h-6zM251 186h2v2h-2zM253 192h2v2h-2zM251 202h4v2h-4z"/>
<path fill="#00ff30" d="M227 38h2v2h-2zM221 42h2v2h-2zM217 44h2v2h-2zM221 44h2v2h-2zM239 44h4v2h-4zM229 50h2v2h-2zM265 50h2v2h-2zM231 52h2v2h-2zM237 52h2v2h-2zM267 52h2v2h-2zM267 54h2v2h-2zM229 56h2v2h-2zM239 58h2v2h-2zM255 58h2v2h-2zM265 58h2v2h-2zM241 60h2v2h-2zM245 60h4v2h-4zM257 60h2v2h-2zM263 60h2v2h-2zM265 62h2v2h-2zM241 64h2v2h-2zM251 64h2v2h-2zM255 64h2v2h-2zM245 66h2v2h-2zM251 68h2v2h-2zM247 70h2v2h-2zM225 76h2v2h-2zM235 78h2v2h-2zM211 80h2v2h-2zM307 80h2v2h-2zM219 82h2v2h-2zM309 82h2v2h-2zM221 84h2v2h-2zM215 86h2v2h-2zM235 86h2v2h-2zM309 86h2v2h-2zM205 88h2v2h-2zM203 92h2v2h-2zM211 92h2v2h-2zM237 92h2v2h-2zM315 92h4v2h-4zM209 94h2v2h-2zM289 94h6v2h-6zM315 94h6v2h-6zM207 96h4v2h-4zM303 96h2v2h-2zM321 96h2v2h-2zM227 98h2v2h-2zM303 98h2v2h-2zM319 98h4v2h-4zM227 100h2v2h-2zM237 100h2v2h-2zM305 100h2v2h-2zM323 100h2v2h-2zM235 102h2v2h-2zM297 102h2v2h-2zM309 102h4v2h-4zM231 104h2v2h-2zM237 104h2v2h-2zM283 104h2v2h-2zM303 104h2v2h-2zM317 104h2v2h-2zM229 106h4v2h-4zM235 106h2v2h-2zM223 108h2v2h-2zM227 108h2v2h-2zM291 108h2v2h-2zM207 116h2v2h-2zM229 116h2v2h-2zM281 116h2v2h-2zM289 116h2v2h-2zM311 116h2v2h-2zM321 116h2v2h-2zM281 118h4v2h-4zM311 118h2v2h-2zM215 122h4v2h-4zM321 122h2v2h-2zM197 124h2v2h-2zM293 124h2v2h-2zM217 126h2v2h-2zM221 126h2v2h-2zM297 126h2v2h-2zM309 126h2v2h-2zM305 128h2v2h-2zM317 130h2v2h-2zM325 130h2v2h-2zM279 132h4v2h-4zM309 132h2v2h-2zM279 134h2v2h-2zM301 134h2v2h-2zM315 134h2v2h-2zM293 136h4v2h-4zM323 136h4v2h-4zM191 138h2v2h-2zM257 138h2v2h-2zM279 138h2v2h-2zM283 138h2v2h-2zM287 138h2v2h-2zM313 138h2v2h-2zM181 140h2v2h-2zM301 140h2v2h-2zM309 140h2v2h-2zM195 142h2v2h-2zM289 142h2v2h-2zM293 142h2v2h-2zM305 142h2v2h-2zM185 144h2v2h-2zM265 144h2v2h-2zM283 144h2v2h-2zM299 144h2v2h-2zM311 144h2v2h-2zM181 146h2v2h-2zM245 146h2v2h-2zM259 146h2v2h-2zM287 146h2v2h-2zM291 146h2v2h-2zM179 148h2v2h-2zM247 148h2v2h-2zM285 148h2v2h-2zM307 148h2v2h-2zM311 148h2v2h-2zM249 150h2v2h-2zM257 150h2v2h-2zM269 150h2v2h-2zM275 150h2v2h-2zM247 152h4v2h-4zM259 152h4v2h-4zM269 152h2v2h-2zM277 152h2v2h-2zM287 152h2v2h-2zM255 154h2v2h-2zM289 154h2v2h-2zM293 154h2v2h-2zM243 156h2v2h-2zM285 156h2v2h-2zM239 158h2v2h-2zM243 158h2v2h-2zM251 160h2v2h-2zM291 160h2v2h-2zM227 164h2v2h-2zM253 164h4v2h-4zM297 164h2v2h-2zM227 166h2v2h-2zM261 166h2v2h-2zM271 166h2v2h-2zM287 166h2v2h-2zM265 168h2v2h-2zM271 168h2v2h-2zM261 176h2v2h-2zM279 176h2v2h-2zM259 178h2v2h-2zM265 178h2v2h-2zM249 180h2v2h-2zM261 180h4v2h-4zM279 180h2v2h-2zM241 182h2v2h-2zM265 182h2v2h-2zM245 184h2v2h-2zM249 186h2v2h-2zM257 186h2v2h-2zM261 186h2v2h-2zM251 188h2v2h-2zM255 188h2v2h-2zM247 190h2v2h-2zM253 190h2v2h-2zM257 190h4v2h-4zM243 194h2v2h-2zM247 194h2v2h-2zM253 194h2v2h-2zM253 206h2v2h-2z"/>
<path fill="#00faff" d="M263 38h2v2h-2zM273 46h2v2h-2zM251 48h6v2h-6zM259 48h2v2h-2zM275 48h2v2h-2zM215 50h2v2h-2zM259 50h2v2h-2zM257 52h4v2h-4zM271 52h2v2h-2zM245 54h2v2h-2zM201 56h2v2h-2zM283 56h2v2h-2zM279 58h2v2h-2zM279 62h2v2h-2zM255 66h2v2h-2zM267 66h2v2h-2zM201 68h2v2h-2zM239 70h2v2h-2zM267 70h2v2h-2zM287 70h2v2h-2zM199 72h4v2h-4zM243 72h2v2h-2zM259 72h2v2h-2zM191 74h2v2h-2zM245 74h2v2h-2zM223 76h2v2h-2zM231 76h2v2h-2zM195 78h2v2h-2zM211 78h2v2h-2zM241 78h4v2h-4zM305 78h2v2h-2zM193 80h2v2h-2zM241 80h2v2h-2zM213 82h2v2h-2zM213 84h2v2h-2zM289 84h2v2h-2zM303 84h2v2h-2zM203 86h2v2h-2zM237 86h2v2h-2zM291 86h2v2h-2zM295 86h2v2h-2zM175 88h2v2h-2zM199 90h2v2h-2zM237 90h2v2h-2zM233 92h2v2h-2zM287 92h2v2h-2zM167 94h4v2h-4zM167 96h2v2h-2zM289 96h2v2h-2zM169 98h2v2h-2zM233 98h2v2h-2zM281 100h2v2h-2zM257 102h2v2h-2zM277 102h2v2h-2zM205 104h2v2h-2zM209 104h2v2h-2zM255 104h2v2h-2zM295 104h2v2h-2zM321 104h2v2h-2zM199 106h2v2h-2zM217 106h2v2h-2zM253 106h2v2h-2zM325 106h2v2h-2zM215 108h2v2h-2zM253 108h2v2h-2zM307 108h2v2h-2zM311 108h2v2h-2zM329 108h2v2h-2zM209 110h2v2h-2zM215 110h2v2h-2zM211 112h2v2h-2zM231 112h2v2h-2zM235 112h4v2h-4zM241 112h4v2h-4zM291 112h2v2h-2zM329 112h2v2h-2zM207 114h2v2h-2zM215 114h2v2h-2zM317 114h2v2h-2zM327 114h2v2h-2zM233 116h2v2h-2zM329 116h2v2h-2zM227 118h2v2h-2zM251 118h2v2h-2zM331 118h2v2h-2zM335 118h2v2h-2zM339 118h2v2h-2zM201 120h2v2h-2zM215 120h2v2h-2zM227 120h2v2h-2zM319 120h2v2h-2zM337 120h4v2h-4zM175 122h2v2h-2zM227 122h2v2h-2zM249 122h2v2h-2zM213 124h2v2h-2zM327 124h4v2h-4zM181 126h2v2h-2zM215 126h2v2h-2zM333 126h2v2h-2zM179 128h2v2h-2zM183 128h2v2h-2zM283 128h2v2h-2zM333 128h2v2h-2zM177 130h2v2h-2zM281 130h2v2h-2zM181 132h2v2h-2zM169 134h2v2h-2zM175 134h2v2h-2zM191 134h2v2h-2zM221 134h2v2h-2zM173 136h2v2h-2zM185 136h2v2h-2zM169 138h2v2h-2zM175 138h2v2h-2zM185 140h2v2h-2zM225 140h2v2h-2zM245 142h6v2h-6zM223 144h2v2h-2zM243 144h2v2h-2zM227 146h2v2h-2zM173 148h2v2h-2zM185 148h2v2h-2zM223 148h2v2h-2zM265 148h2v2h-2zM221 150h4v2h-4zM179 152h2v2h-2zM191 152h2v2h-2zM229 152h2v2h-2zM295 152h4v2h-4zM183 154h2v2h-2zM187 154h2v2h-2zM203 154h2v2h-2zM219 154h2v2h-2zM235 154h2v2h-2zM301 154h2v2h-2zM189 156h2v2h-2zM199 156h4v2h-4zM235 156h2v2h-2zM191 158h2v2h-2zM203 158h2v2h-2zM231 158h2v2h-2zM237 158h2v2h-2zM189 162h2v2h-2zM193 162h2v2h-2zM235 162h2v2h-2zM223 164h2v2h-2zM269 164h2v2h-2zM295 164h2v2h-2zM197 166h2v2h-2zM201 168h2v2h-2zM243 168h2v2h-2zM193 170h2v2h-2zM233 170h2v2h-2zM271 170h2v2h-2zM203 172h4v2h-4zM227 172h2v2h-2zM231 174h2v2h-2zM205 178h2v2h-2zM273 184h2v2h-2zM239 186h2v2h-2zM273 186h2v2h-2zM247 188h2v2h-2zM271 188h2v2h-2z"/>
<path fill="#06ff1a" d="M225 40h2v2h-2zM213 44h4v2h-4zM231 44h2v2h-2zM227 46h2v2h-2zM237 46h2v2h-2zM265 52h2v2h-2zM239 54h2v2h-2zM239 56h4v2h-4zM245 56h2v2h-2zM247 58h2v2h-2zM269 58h2v2h-2zM267 60h2v2h-2zM239 62h2v2h-2zM247 62h2v2h-2zM251 62h2v2h-2zM255 62h2v2h-2zM261 62h2v2h-2zM237 64h2v2h-2zM243 64h2v2h-2zM261 64h2v2h-2zM261 66h2v2h-2zM237 68h4v2h-4zM243 68h2v2h-2zM223 80h2v2h-2zM227 80h2v2h-2zM231 80h2v2h-2zM303 80h2v2h-2zM227 82h2v2h-2zM305 82h2v2h-2zM205 84h6v2h-6zM239 84h2v2h-2zM311 84h2v2h-2zM209 86h2v2h-2zM221 86h2v2h-2zM229 86h4v2h-4zM203 90h2v2h-2zM305 90h2v2h-2zM309 90h2v2h-2zM195 92h4v2h-4zM231 92h2v2h-2zM313 92h2v2h-2zM211 94h4v2h-4zM231 94h2v2h-2zM309 94h2v2h-2zM285 96h2v2h-2zM295 96h2v2h-2zM305 96h2v2h-2zM309 96h2v2h-2zM207 98h2v2h-2zM213 98h2v2h-2zM229 98h2v2h-2zM299 98h4v2h-4zM305 98h2v2h-2zM311 98h2v2h-2zM207 100h4v2h-4zM215 100h2v2h-2zM223 100h2v2h-2zM307 100h2v2h-2zM319 100h2v2h-2zM211 102h2v2h-2zM217 102h2v2h-2zM223 102h4v2h-4zM297 104h2v2h-2zM301 104h2v2h-2zM213 106h4v2h-4zM299 106h2v2h-2zM231 108h2v2h-2zM297 108h4v2h-4zM223 110h2v2h-2zM293 110h2v2h-2zM193 116h2v2h-2zM225 116h2v2h-2zM205 118h2v2h-2zM305 118h2v2h-2zM291 122h4v2h-4zM299 122h2v2h-2zM311 122h2v2h-2zM315 122h2v2h-2zM199 124h2v2h-2zM217 124h4v2h-4zM299 124h2v2h-2zM313 124h2v2h-2zM291 126h2v2h-2zM301 126h2v2h-2zM315 126h2v2h-2zM299 128h4v2h-4zM219 130h2v2h-2zM307 130h2v2h-2zM319 130h2v2h-2zM329 130h2v2h-2zM299 132h2v2h-2zM315 132h2v2h-2zM323 134h2v2h-2zM297 136h2v2h-2zM305 136h2v2h-2zM317 136h4v2h-4zM195 138h2v2h-2zM301 138h4v2h-4zM179 140h2v2h-2zM191 140h2v2h-2zM195 140h2v2h-2zM205 140h2v2h-2zM277 140h2v2h-2zM283 140h2v2h-2zM293 140h2v2h-2zM297 140h2v2h-2zM257 142h2v2h-2zM281 142h2v2h-2zM295 142h2v2h-2zM309 142h2v2h-2zM183 144h2v2h-2zM187 144h2v2h-2zM249 144h2v2h-2zM297 144h2v2h-2zM303 144h2v2h-2zM313 144h2v2h-2zM261 146h2v2h-2zM271 146h2v2h-2zM191 148h2v2h-2zM195 148h2v2h-2zM273 148h4v2h-4zM283 148h2v2h-2zM267 150h2v2h-2zM271 150h2v2h-2zM277 150h2v2h-2zM281 150h2v2h-2zM285 150h2v2h-2zM297 150h2v2h-2zM285 152h2v2h-2zM241 154h2v2h-2zM267 154h2v2h-2zM271 154h2v2h-2zM285 154h2v2h-2zM237 156h2v2h-2zM297 156h2v2h-2zM245 158h2v2h-2zM265 162h2v2h-2zM253 166h2v2h-2zM277 166h2v2h-2zM253 168h4v2h-4zM263 168h2v2h-2zM293 168h2v2h-2zM283 172h2v2h-2zM275 174h2v2h-2zM281 176h2v2h-2zM261 182h2v2h-2zM275 182h2v2h-2zM247 184h2v2h-2zM259 186h2v2h-2zM259 188h2v2h-2zM245 192h2v2h-2zM255 192h2v2h-2zM249 194h2v2h-2zM259 194h2v2h-2zM253 196h6v2h-6zM257 198h4v2h-4zM253 204h2v2h-2z"/>
<path fill="#00e7ff" d="M257 40h2v2h-2zM259 42h2v2h-2zM269 44h2v2h-2zM253 46h2v2h-2zM267 46h2v2h-2zM225 48h2v2h-2zM273 48h2v2h-2zM217 50h2v2h-2zM275 50h4v2h-4zM221 52h2v2h-2zM229 54h2v2h-2zM243 54h2v2h-2zM273 54h2v2h-2zM227 56h2v2h-2zM235 56h2v2h-2zM255 56h2v2h-2zM279 56h2v2h-2zM273 58h4v2h-4zM269 60h2v2h-2zM277 60h2v2h-2zM205 62h2v2h-2zM269 62h2v2h-2zM285 62h2v2h-2zM277 64h4v2h-4zM195 66h2v2h-2zM199 66h2v2h-2zM271 66h2v2h-2zM275 66h2v2h-2zM199 70h2v2h-2zM221 72h2v2h-2zM227 72h2v2h-2zM287 72h2v2h-2zM249 74h2v2h-2zM285 74h2v2h-2zM197 76h4v2h-4zM203 76h2v2h-2zM243 76h2v2h-2zM251 76h2v2h-2zM199 78h2v2h-2zM233 78h2v2h-2zM197 80h2v2h-2zM205 80h2v2h-2zM237 80h2v2h-2zM243 80h2v2h-2zM197 82h2v2h-2zM203 82h4v2h-4zM237 82h2v2h-2zM291 82h2v2h-2zM299 82h2v2h-2zM193 84h2v2h-2zM293 84h2v2h-2zM299 84h2v2h-2zM293 86h2v2h-2zM299 86h2v2h-2zM303 86h2v2h-2zM243 88h2v2h-2zM303 88h2v2h-2zM169 90h2v2h-2zM207 90h2v2h-2zM287 90h2v2h-2zM163 92h2v2h-2zM239 92h2v2h-2zM235 94h2v2h-2zM285 94h2v2h-2zM279 98h2v2h-2zM155 100h2v2h-2zM167 100h2v2h-2zM257 100h2v2h-2zM289 100h2v2h-2zM207 102h2v2h-2zM279 102h2v2h-2zM197 104h2v2h-2zM279 104h4v2h-4zM211 106h2v2h-2zM281 106h2v2h-2zM319 106h2v2h-2zM331 106h2v2h-2zM241 108h2v2h-2zM327 108h2v2h-2zM241 110h2v2h-2zM303 110h2v2h-2zM311 110h2v2h-2zM327 110h4v2h-4zM191 112h2v2h-2zM205 112h2v2h-2zM229 112h2v2h-2zM331 112h2v2h-2zM337 112h2v2h-2zM203 114h2v2h-2zM209 114h2v2h-2zM219 114h2v2h-2zM231 114h2v2h-2zM315 114h2v2h-2zM339 114h2v2h-2zM191 116h2v2h-2zM301 116h4v2h-4zM307 116h2v2h-2zM337 116h2v2h-2zM193 118h2v2h-2zM197 118h2v2h-2zM223 118h2v2h-2zM247 118h2v2h-2zM341 118h2v2h-2zM205 120h2v2h-2zM231 120h4v2h-4zM317 120h2v2h-2zM287 122h2v2h-2zM333 122h2v2h-2zM337 122h2v2h-2zM207 124h2v2h-2zM211 124h2v2h-2zM221 124h2v2h-2zM337 124h2v2h-2zM211 126h2v2h-2zM229 126h2v2h-2zM213 128h2v2h-2zM223 130h2v2h-2zM183 132h2v2h-2zM227 132h2v2h-2zM231 132h2v2h-2zM271 132h4v2h-4zM321 132h2v2h-2zM171 134h2v2h-2zM181 134h2v2h-2zM225 134h2v2h-2zM243 134h2v2h-2zM263 134h4v2h-4zM269 134h2v2h-2zM241 136h2v2h-2zM249 136h2v2h-2zM173 138h2v2h-2zM185 138h2v2h-2zM189 138h2v2h-2zM169 140h2v2h-2zM189 140h2v2h-2zM213 140h2v2h-2zM267 140h2v2h-2zM225 142h2v2h-2zM253 142h2v2h-2zM187 146h2v2h-2zM221 146h2v2h-2zM243 146h2v2h-2zM245 148h2v2h-2zM173 150h2v2h-2zM189 150h4v2h-4zM195 150h2v2h-2zM205 152h2v2h-2zM219 152h2v2h-2zM237 152h2v2h-2zM207 154h2v2h-2zM181 156h2v2h-2zM193 156h4v2h-4zM205 156h2v2h-2zM187 158h2v2h-2zM195 158h2v2h-2zM199 158h2v2h-2zM223 158h2v2h-2zM235 158h2v2h-2zM271 158h2v2h-2zM187 160h2v2h-2zM199 160h2v2h-2zM243 160h2v2h-2zM185 162h4v2h-4zM189 164h4v2h-4zM207 164h2v2h-2zM235 164h4v2h-4zM191 166h2v2h-2zM195 166h2v2h-2zM225 168h2v2h-2zM197 170h2v2h-2zM203 170h4v2h-4zM231 170h2v2h-2zM269 170h2v2h-2zM199 174h2v2h-2zM263 174h2v2h-2zM203 176h2v2h-2zM203 180h2v2h-2zM257 180h2v2h-2zM267 184h2v2h-2zM269 186h2v2h-2zM267 190h2v2h-2zM263 194h2v2h-2zM241 196h2v2h-2zM251 198h2v2h-2z"/>
<path fill="#00d5ff" d="M261 40h2v2h-2zM239 46h2v2h-2zM261 50h2v2h-2zM205 52h2v2h-2zM215 52h2v2h-2zM219 52h2v2h-2zM229 52h2v2h-2zM261 52h2v2h-2zM277 54h2v2h-2zM259 56h2v2h-2zM271 58h2v2h-2zM277 58h2v2h-2zM285 58h2v2h-2zM275 60h2v2h-2zM281 60h2v2h-2zM285 60h2v2h-2zM229 62h2v2h-2zM275 62h2v2h-2zM275 64h2v2h-2zM257 66h2v2h-2zM197 68h2v2h-2zM235 68h2v2h-2zM187 70h4v2h-4zM233 70h4v2h-4zM189 72h2v2h-2zM195 72h2v2h-2zM235 72h2v2h-2zM241 72h2v2h-2zM269 72h2v2h-2zM189 74h2v2h-2zM193 74h2v2h-2zM223 74h2v2h-2zM229 74h4v2h-4zM241 74h2v2h-2zM287 74h2v2h-2zM195 76h2v2h-2zM223 78h2v2h-2zM231 78h2v2h-2zM239 78h2v2h-2zM247 80h2v2h-2zM199 82h2v2h-2zM291 84h2v2h-2zM301 84h2v2h-2zM171 88h2v2h-2zM199 88h4v2h-4zM209 88h2v2h-2zM167 90h2v2h-2zM171 90h2v2h-2zM169 92h2v2h-2zM301 92h2v2h-2zM161 94h2v2h-2zM231 96h2v2h-2zM239 96h2v2h-2zM195 98h2v2h-2zM291 98h2v2h-2zM165 100h2v2h-2zM233 100h2v2h-2zM291 100h2v2h-2zM325 100h2v2h-2zM195 102h2v2h-2zM203 104h2v2h-2zM253 104h2v2h-2zM195 106h2v2h-2zM201 106h2v2h-2zM197 108h4v2h-4zM239 108h2v2h-2zM267 108h2v2h-2zM309 108h2v2h-2zM217 110h2v2h-2zM291 110h2v2h-2zM239 112h2v2h-2zM317 112h2v2h-2zM197 114h2v2h-2zM201 114h2v2h-2zM301 114h2v2h-2zM305 114h2v2h-2zM309 114h6v2h-6zM319 114h2v2h-2zM333 114h4v2h-4zM243 116h2v2h-2zM317 116h2v2h-2zM323 116h4v2h-4zM187 118h2v2h-2zM325 118h4v2h-4zM223 120h2v2h-2zM283 120h2v2h-2zM301 120h2v2h-2zM235 122h2v2h-2zM325 122h2v2h-2zM329 122h2v2h-2zM209 124h2v2h-2zM179 126h2v2h-2zM327 126h2v2h-2zM165 128h2v2h-2zM177 128h2v2h-2zM219 128h2v2h-2zM241 128h2v2h-2zM267 128h2v2h-2zM325 128h2v2h-2zM169 130h2v2h-2zM175 130h2v2h-2zM179 130h2v2h-2zM217 130h2v2h-2zM279 130h2v2h-2zM331 130h2v2h-2zM169 132h2v2h-2zM215 132h2v2h-2zM179 134h2v2h-2zM183 134h2v2h-2zM223 134h2v2h-2zM227 134h2v2h-2zM167 136h2v2h-2zM229 136h2v2h-2zM243 136h2v2h-2zM267 136h2v2h-2zM183 138h2v2h-2zM255 138h2v2h-2zM261 138h2v2h-2zM175 140h2v2h-2zM211 140h2v2h-2zM173 142h2v2h-2zM187 142h2v2h-2zM227 142h2v2h-2zM231 142h2v2h-2zM251 142h2v2h-2zM173 144h2v2h-2zM231 144h2v2h-2zM267 144h2v2h-2zM169 146h2v2h-2zM231 146h2v2h-2zM241 146h2v2h-2zM175 148h2v2h-2zM235 148h2v2h-2zM231 150h2v2h-2zM291 150h2v2h-2zM311 150h2v2h-2zM181 154h2v2h-2zM193 154h2v2h-2zM225 154h2v2h-2zM233 154h2v2h-2zM237 154h2v2h-2zM299 154h2v2h-2zM183 156h2v2h-2zM189 158h2v2h-2zM227 158h2v2h-2zM269 158h2v2h-2zM273 158h2v2h-2zM195 160h4v2h-4zM223 160h2v2h-2zM229 160h2v2h-2zM269 160h2v2h-2zM201 162h2v2h-2zM231 162h2v2h-2zM241 162h2v2h-2zM271 162h2v2h-2zM297 162h2v2h-2zM195 164h2v2h-2zM207 166h2v2h-2zM205 168h2v2h-2zM229 172h2v2h-2zM245 190h2v2h-2zM263 192h2v2h-2zM267 192h2v2h-2z"/>
<path fill="#00a1ff" d="M263 40h2v2h-2zM219 54h2v2h-2zM279 60h2v2h-2zM195 64h2v2h-2zM269 68h2v2h-2zM191 70h2v2h-2zM275 70h2v2h-2zM197 74h2v2h-2zM203 74h2v2h-2zM285 76h2v2h-2zM201 78h2v2h-2zM209 78h2v2h-2zM303 78h2v2h-2zM195 80h2v2h-2zM261 80h2v2h-2zM171 94h2v2h-2zM169 96h2v2h-2zM237 96h2v2h-2zM239 100h2v2h-2zM281 102h2v2h-2zM239 104h2v2h-2zM211 108h2v2h-2zM293 108h2v2h-2zM213 110h2v2h-2zM211 114h2v2h-2zM237 114h2v2h-2zM341 116h2v2h-2zM183 118h2v2h-2zM217 118h2v2h-2zM239 118h4v2h-4zM333 118h2v2h-2zM177 126h2v2h-2zM227 126h2v2h-2zM187 134h2v2h-2zM259 138h2v2h-2zM189 146h2v2h-2zM229 146h2v2h-2zM241 152h2v2h-2zM185 154h2v2h-2zM223 154h2v2h-2zM229 162h2v2h-2zM205 166h2v2h-2zM197 168h2v2h-2zM267 170h2v2h-2zM197 172h2v2h-2zM229 176h2v2h-2zM237 180h2v2h-2z"/>
<path fill="#00ffda" d="M265 40h2v2h-2zM271 44h2v2h-2zM209 48h2v2h-2zM235 48h2v2h-2zM271 48h2v2h-2zM241 50h2v2h-2zM247 54h2v2h-2zM257 54h2v2h-2zM279 54h2v2h-2zM225 58h2v2h-2zM231 60h2v2h-2zM235 60h2v2h-2zM273 62h2v2h-2zM289 62h2v2h-2zM279 66h2v2h-2zM199 68h2v2h-2zM273 68h2v2h-2zM287 68h2v2h-2zM193 70h2v2h-2zM243 70h2v2h-2zM271 70h2v2h-2zM191 72h2v2h-2zM229 72h2v2h-2zM237 72h4v2h-4zM251 72h2v2h-2zM263 72h2v2h-2zM273 72h2v2h-2zM187 74h2v2h-2zM195 74h2v2h-2zM225 74h2v2h-2zM253 74h2v2h-2zM281 74h2v2h-2zM191 76h2v2h-2zM245 76h4v2h-4zM265 78h2v2h-2zM255 80h2v2h-2zM193 82h2v2h-2zM235 82h2v2h-2zM289 82h2v2h-2zM195 84h2v2h-2zM295 84h2v2h-2zM199 86h2v2h-2zM289 86h2v2h-2zM289 88h2v2h-2zM301 88h2v2h-2zM307 88h2v2h-2zM165 90h2v2h-2zM201 90h2v2h-2zM239 90h2v2h-2zM293 90h2v2h-2zM167 92h2v2h-2zM173 92h2v2h-2zM199 92h4v2h-4zM161 96h2v2h-2zM235 96h2v2h-2zM293 96h2v2h-2zM285 98h4v2h-4zM277 100h2v2h-2zM283 100h2v2h-2zM169 102h2v2h-2zM197 106h2v2h-2zM207 106h4v2h-4zM241 106h2v2h-2zM255 106h2v2h-2zM193 108h4v2h-4zM201 108h2v2h-2zM217 108h2v2h-2zM255 108h2v2h-2zM219 110h2v2h-2zM239 110h2v2h-2zM309 110h2v2h-2zM315 110h2v2h-2zM325 110h2v2h-2zM331 110h2v2h-2zM335 110h2v2h-2zM203 112h2v2h-2zM207 112h2v2h-2zM219 112h2v2h-2zM303 112h2v2h-2zM307 112h2v2h-2zM325 112h2v2h-2zM217 114h2v2h-2zM221 114h2v2h-2zM243 114h4v2h-4zM323 114h2v2h-2zM337 114h2v2h-2zM197 116h2v2h-2zM203 116h2v2h-2zM231 116h2v2h-2zM239 116h4v2h-4zM331 116h2v2h-2zM339 116h2v2h-2zM237 118h2v2h-2zM243 118h2v2h-2zM317 118h2v2h-2zM323 118h2v2h-2zM337 118h2v2h-2zM183 120h2v2h-2zM203 120h2v2h-2zM263 120h2v2h-2zM325 120h2v2h-2zM329 120h2v2h-2zM179 122h2v2h-2zM197 122h2v2h-2zM221 122h2v2h-2zM233 122h2v2h-2zM237 122h2v2h-2zM227 124h2v2h-2zM325 124h2v2h-2zM331 124h2v2h-2zM281 126h2v2h-2zM233 128h2v2h-2zM203 130h2v2h-2zM215 130h2v2h-2zM267 130h2v2h-2zM167 132h2v2h-2zM179 132h2v2h-2zM185 132h2v2h-2zM217 132h2v2h-2zM225 132h2v2h-2zM177 134h2v2h-2zM261 134h2v2h-2zM171 136h2v2h-2zM183 136h2v2h-2zM245 136h2v2h-2zM167 138h2v2h-2zM177 138h2v2h-2zM247 138h2v2h-2zM267 138h2v2h-2zM183 140h2v2h-2zM245 140h2v2h-2zM261 140h2v2h-2zM197 142h2v2h-2zM243 142h2v2h-2zM175 144h2v2h-2zM221 144h2v2h-2zM171 146h2v2h-2zM175 146h2v2h-2zM197 152h2v2h-2zM245 152h2v2h-2zM177 154h2v2h-2zM195 154h4v2h-4zM205 154h2v2h-2zM221 154h2v2h-2zM227 154h2v2h-2zM207 156h2v2h-2zM225 156h2v2h-2zM275 156h2v2h-2zM301 156h4v2h-4zM197 158h2v2h-2zM265 158h4v2h-4zM227 160h2v2h-2zM271 160h2v2h-2zM297 160h2v2h-2zM209 162h2v2h-2zM199 164h2v2h-2zM239 164h2v2h-2zM201 166h2v2h-2zM269 166h2v2h-2zM193 168h4v2h-4zM203 168h2v2h-2zM235 168h2v2h-2zM195 170h2v2h-2zM199 170h2v2h-2zM207 172h2v2h-2zM231 172h2v2h-2zM257 172h2v2h-2zM271 172h2v2h-2zM197 174h2v2h-2zM205 174h2v2h-2zM257 174h2v2h-2zM261 174h2v2h-2zM199 176h2v2h-2zM267 176h2v2h-2zM203 178h2v2h-2zM259 180h2v2h-2zM239 182h2v2h-2zM241 190h2v2h-2zM265 190h2v2h-2zM241 194h2v2h-2zM241 202h2v2h-2zM247 202h2v2h-2z"/>
<path fill="#26ff00" d="M223 44h2v2h-2zM243 44h2v2h-2zM217 46h2v2h-2zM221 46h2v2h-2zM231 46h2v2h-2zM231 50h2v2h-2zM237 50h2v2h-2zM267 50h2v2h-2zM241 52h2v2h-2zM235 54h2v2h-2zM247 56h2v2h-2zM267 56h4v2h-4zM239 60h2v2h-2zM249 60h2v2h-2zM241 62h2v2h-2zM247 64h2v2h-2zM253 66h2v2h-2zM251 70h4v2h-4zM247 72h2v2h-2zM227 76h4v2h-4zM253 76h2v2h-2zM245 78h2v2h-2zM209 80h2v2h-2zM209 82h2v2h-2zM225 82h2v2h-2zM231 82h2v2h-2zM303 82h2v2h-2zM225 84h2v2h-2zM233 84h2v2h-2zM313 86h2v2h-2zM233 90h2v2h-2zM291 90h2v2h-2zM315 90h2v2h-2zM227 92h2v2h-2zM235 92h2v2h-2zM289 92h2v2h-2zM309 92h4v2h-4zM203 94h2v2h-2zM295 94h2v2h-2zM299 94h2v2h-2zM305 94h2v2h-2zM313 94h2v2h-2zM227 96h4v2h-4zM299 96h2v2h-2zM319 96h2v2h-2zM223 98h2v2h-2zM295 98h2v2h-2zM193 100h2v2h-2zM229 100h2v2h-2zM299 100h2v2h-2zM309 100h2v2h-2zM193 102h2v2h-2zM303 102h2v2h-2zM313 102h4v2h-4zM223 104h2v2h-2zM227 104h2v2h-2zM293 104h2v2h-2zM325 104h2v2h-2zM293 106h2v2h-2zM303 106h2v2h-2zM311 106h2v2h-2zM219 108h2v2h-2zM295 108h2v2h-2zM301 108h2v2h-2zM227 110h2v2h-2zM233 110h2v2h-2zM227 114h2v2h-2zM211 116h2v2h-2zM221 116h2v2h-2zM289 118h2v2h-2zM313 118h2v2h-2zM237 120h2v2h-2zM303 120h4v2h-4zM309 120h2v2h-2zM199 122h2v2h-2zM309 122h2v2h-2zM225 124h2v2h-2zM305 124h2v2h-2zM317 124h2v2h-2zM321 124h2v2h-2zM281 128h2v2h-2zM291 128h2v2h-2zM297 130h2v2h-2zM303 130h2v2h-2zM313 130h2v2h-2zM323 130h2v2h-2zM275 132h2v2h-2zM303 132h2v2h-2zM273 134h2v2h-2zM305 134h4v2h-4zM317 134h2v2h-2zM275 136h2v2h-2zM299 136h2v2h-2zM273 138h2v2h-2zM297 138h4v2h-4zM197 140h2v2h-2zM255 140h2v2h-2zM295 140h2v2h-2zM307 140h2v2h-2zM313 140h2v2h-2zM261 142h2v2h-2zM277 142h4v2h-4zM299 142h2v2h-2zM303 142h2v2h-2zM181 144h2v2h-2zM191 144h2v2h-2zM261 144h2v2h-2zM279 144h2v2h-2zM289 144h2v2h-2zM295 144h2v2h-2zM305 144h2v2h-2zM309 144h2v2h-2zM251 146h6v2h-6zM263 146h2v2h-2zM283 146h2v2h-2zM293 146h2v2h-2zM313 146h2v2h-2zM183 148h2v2h-2zM249 148h2v2h-2zM257 148h2v2h-2zM279 148h2v2h-2zM305 148h2v2h-2zM309 148h2v2h-2zM313 148h2v2h-2zM181 150h2v2h-2zM259 150h2v2h-2zM273 150h2v2h-2zM279 150h2v2h-2zM283 150h2v2h-2zM295 150h2v2h-2zM251 152h2v2h-2zM263 152h2v2h-2zM249 154h2v2h-2zM247 156h6v2h-6zM255 156h2v2h-2zM249 158h2v2h-2zM241 160h2v2h-2zM261 160h2v2h-2zM259 162h2v2h-2zM249 164h2v2h-2zM257 164h2v2h-2zM261 164h2v2h-2zM273 166h2v2h-2zM275 168h2v2h-2zM287 168h2v2h-2zM255 170h2v2h-2zM261 170h2v2h-2zM265 170h2v2h-2zM273 174h2v2h-2zM281 174h2v2h-2zM275 176h4v2h-4zM275 178h2v2h-2zM281 178h2v2h-2zM247 180h2v2h-2zM265 180h2v2h-2zM277 182h2v2h-2zM249 184h2v2h-2zM257 184h2v2h-2zM267 186h2v2h-2zM265 188h2v2h-2zM251 190h2v2h-2zM247 192h2v2h-2zM259 192h2v2h-2zM257 194h2v2h-2zM259 196h2v2h-2zM251 204h2v2h-2zM255 204h2v2h-2zM251 206h2v2h-2z"/>
<path fill="#00c3ff" d="M253 44h2v2h-2zM213 46h2v2h-2zM271 46h2v2h-2zM221 48h2v2h-2zM267 48h2v2h-2zM219 50h2v2h-2zM263 50h2v2h-2zM217 52h2v2h-2zM243 52h2v2h-2zM277 52h4v2h-4zM259 54h4v2h-4zM275 54h2v2h-2zM281 54h2v2h-2zM225 56h2v2h-2zM233 56h2v2h-2zM251 56h2v2h-2zM277 56h2v2h-2zM233 58h4v2h-4zM283 58h2v2h-2zM233 60h2v2h-2zM287 60h2v2h-2zM193 64h2v2h-2zM265 64h2v2h-2zM273 64h2v2h-2zM201 66h2v2h-2zM239 66h2v2h-2zM265 66h2v2h-2zM269 66h2v2h-2zM191 68h2v2h-2zM195 68h2v2h-2zM267 68h2v2h-2zM195 70h2v2h-2zM263 70h2v2h-2zM249 72h2v2h-2zM271 72h2v2h-2zM199 74h2v2h-2zM251 74h2v2h-2zM233 76h2v2h-2zM241 76h2v2h-2zM191 78h4v2h-4zM203 78h2v2h-2zM251 78h4v2h-4zM261 78h4v2h-4zM301 78h2v2h-2zM235 80h2v2h-2zM239 80h2v2h-2zM259 80h2v2h-2zM301 82h2v2h-2zM197 84h2v2h-2zM203 84h2v2h-2zM201 86h2v2h-2zM197 88h2v2h-2zM239 88h2v2h-2zM299 88h2v2h-2zM195 90h2v2h-2zM209 90h2v2h-2zM289 90h2v2h-2zM295 90h2v2h-2zM299 90h6v2h-6zM171 92h2v2h-2zM299 92h2v2h-2zM287 94h2v2h-2zM301 96h2v2h-2zM199 98h2v2h-2zM157 100h2v2h-2zM249 100h2v2h-2zM199 102h2v2h-2zM205 102h2v2h-2zM239 102h4v2h-4zM289 102h2v2h-2zM293 102h4v2h-4zM327 102h2v2h-2zM195 104h2v2h-2zM257 104h2v2h-2zM327 104h2v2h-2zM239 106h2v2h-2zM265 106h2v2h-2zM327 106h4v2h-4zM313 108h2v2h-2zM211 110h2v2h-2zM289 110h2v2h-2zM199 112h4v2h-4zM213 112h2v2h-2zM221 112h2v2h-2zM227 112h2v2h-2zM301 112h2v2h-2zM309 112h2v2h-2zM191 114h2v2h-2zM213 114h2v2h-2zM235 114h2v2h-2zM239 114h4v2h-4zM299 114h2v2h-2zM303 114h2v2h-2zM321 114h2v2h-2zM329 114h4v2h-4zM215 116h2v2h-2zM235 116h4v2h-4zM185 118h2v2h-2zM215 118h2v2h-2zM261 118h2v2h-2zM303 118h2v2h-2zM343 118h2v2h-2zM199 120h2v2h-2zM225 120h2v2h-2zM235 120h2v2h-2zM239 120h2v2h-2zM249 120h2v2h-2zM333 120h4v2h-4zM177 122h2v2h-2zM207 122h2v2h-2zM213 122h2v2h-2zM297 122h2v2h-2zM327 122h2v2h-2zM177 124h2v2h-2zM229 124h2v2h-2zM335 124h2v2h-2zM205 126h2v2h-2zM209 126h2v2h-2zM227 128h2v2h-2zM259 132h4v2h-4zM325 132h2v2h-2zM189 134h2v2h-2zM267 134h2v2h-2zM321 134h2v2h-2zM177 136h2v2h-2zM193 136h2v2h-2zM171 138h2v2h-2zM181 138h2v2h-2zM243 138h4v2h-4zM171 140h2v2h-2zM187 140h2v2h-2zM229 140h4v2h-4zM171 142h2v2h-2zM175 142h2v2h-2zM189 142h2v2h-2zM223 142h2v2h-2zM229 142h2v2h-2zM263 142h2v2h-2zM267 142h4v2h-4zM169 144h2v2h-2zM195 144h2v2h-2zM177 146h2v2h-2zM269 146h2v2h-2zM267 148h2v2h-2zM185 150h2v2h-2zM207 150h2v2h-2zM225 150h2v2h-2zM229 150h2v2h-2zM235 150h2v2h-2zM239 150h2v2h-2zM175 152h2v2h-2zM195 152h2v2h-2zM223 152h2v2h-2zM227 152h2v2h-2zM307 152h2v2h-2zM189 154h4v2h-4zM199 154h4v2h-4zM229 154h2v2h-2zM191 156h2v2h-2zM203 156h2v2h-2zM263 156h2v2h-2zM183 158h2v2h-2zM221 158h2v2h-2zM225 158h2v2h-2zM229 158h2v2h-2zM263 158h2v2h-2zM299 158h2v2h-2zM191 160h2v2h-2zM247 160h2v2h-2zM299 160h2v2h-2zM195 162h2v2h-2zM221 162h2v2h-2zM225 162h2v2h-2zM187 164h2v2h-2zM193 164h2v2h-2zM197 164h2v2h-2zM205 164h2v2h-2zM233 164h2v2h-2zM203 166h2v2h-2zM223 166h2v2h-2zM229 166h4v2h-4zM269 168h2v2h-2zM201 170h2v2h-2zM207 170h2v2h-2zM203 174h2v2h-2zM267 174h2v2h-2zM253 178h2v2h-2zM239 180h2v2h-2zM273 182h2v2h-2zM271 184h2v2h-2zM267 188h2v2h-2zM269 190h2v2h-2zM265 192h2v2h-2zM265 194h2v2h-2z"/>
<path fill="#00ffef" d="M211 46h2v2h-2zM269 46h2v2h-2zM211 48h2v2h-2zM219 48h2v2h-2zM263 48h2v2h-2zM269 48h2v2h-2zM269 50h2v2h-2zM273 52h2v2h-2zM227 54h2v2h-2zM271 56h2v2h-2zM275 56h2v2h-2zM229 58h2v2h-2zM257 58h2v2h-2zM287 62h2v2h-2zM203 64h2v2h-2zM285 64h2v2h-2zM241 66h2v2h-2zM189 68h2v2h-2zM261 68h2v2h-2zM185 72h2v2h-2zM197 72h2v2h-2zM203 72h2v2h-2zM231 72h2v2h-2zM233 74h2v2h-2zM247 74h2v2h-2zM255 74h2v2h-2zM193 76h2v2h-2zM249 76h2v2h-2zM255 76h2v2h-2zM283 76h2v2h-2zM207 78h2v2h-2zM249 78h2v2h-2zM259 78h2v2h-2zM233 80h2v2h-2zM263 80h2v2h-2zM297 80h4v2h-4zM201 82h2v2h-2zM215 82h2v2h-2zM293 82h2v2h-2zM297 82h2v2h-2zM199 84h2v2h-2zM287 84h2v2h-2zM297 84h2v2h-2zM197 86h2v2h-2zM297 86h2v2h-2zM241 90h2v2h-2zM165 92h2v2h-2zM207 92h4v2h-4zM295 92h2v2h-2zM165 94h2v2h-2zM233 94h2v2h-2zM171 96h2v2h-2zM201 96h2v2h-2zM233 96h2v2h-2zM159 98h2v2h-2zM167 98h2v2h-2zM289 98h2v2h-2zM169 100h2v2h-2zM195 100h2v2h-2zM231 100h2v2h-2zM279 100h2v2h-2zM293 100h2v2h-2zM167 102h2v2h-2zM201 102h2v2h-2zM209 102h2v2h-2zM291 102h2v2h-2zM217 104h2v2h-2zM241 104h2v2h-2zM329 104h2v2h-2zM283 106h2v2h-2zM323 106h2v2h-2zM209 108h2v2h-2zM213 108h2v2h-2zM303 108h4v2h-4zM325 108h2v2h-2zM333 108h2v2h-2zM195 110h6v2h-6zM221 110h2v2h-2zM237 110h2v2h-2zM317 110h2v2h-2zM323 110h2v2h-2zM333 110h2v2h-2zM189 112h2v2h-2zM197 112h2v2h-2zM209 112h2v2h-2zM297 112h2v2h-2zM315 112h2v2h-2zM333 112h2v2h-2zM195 114h2v2h-2zM199 114h2v2h-2zM205 114h2v2h-2zM189 116h2v2h-2zM199 116h2v2h-2zM219 116h2v2h-2zM245 116h2v2h-2zM327 116h2v2h-2zM199 118h2v2h-2zM203 118h2v2h-2zM213 118h2v2h-2zM231 118h2v2h-2zM235 118h2v2h-2zM249 118h2v2h-2zM301 118h2v2h-2zM329 118h2v2h-2zM209 120h2v2h-2zM219 120h2v2h-2zM205 122h2v2h-2zM209 122h2v2h-2zM219 122h2v2h-2zM231 122h2v2h-2zM331 122h2v2h-2zM339 122h2v2h-2zM179 124h2v2h-2zM333 124h2v2h-2zM207 126h2v2h-2zM213 126h2v2h-2zM175 128h2v2h-2zM181 128h2v2h-2zM217 128h2v2h-2zM265 128h2v2h-2zM181 130h6v2h-6zM225 130h2v2h-2zM235 130h2v2h-2zM209 132h2v2h-2zM219 132h2v2h-2zM245 132h2v2h-2zM263 132h4v2h-4zM317 132h2v2h-2zM323 132h2v2h-2zM185 134h2v2h-2zM193 134h2v2h-2zM271 134h2v2h-2zM169 136h2v2h-2zM179 136h4v2h-4zM247 136h2v2h-2zM259 136h2v2h-2zM187 138h2v2h-2zM197 138h2v2h-2zM229 138h2v2h-2zM269 138h2v2h-2zM167 140h2v2h-2zM227 140h2v2h-2zM269 140h4v2h-4zM169 142h2v2h-2zM265 142h2v2h-2zM171 144h2v2h-2zM189 144h2v2h-2zM225 144h2v2h-2zM235 146h2v2h-2zM171 148h2v2h-2zM189 148h2v2h-2zM207 148h2v2h-2zM221 148h2v2h-2zM269 148h2v2h-2zM177 150h2v2h-2zM187 150h2v2h-2zM197 150h2v2h-2zM245 150h2v2h-2zM181 152h8v2h-8zM303 154h2v2h-2zM197 156h2v2h-2zM221 156h4v2h-4zM229 156h2v2h-2zM181 158h2v2h-2zM193 158h2v2h-2zM297 158h2v2h-2zM185 160h2v2h-2zM237 160h4v2h-4zM191 162h2v2h-2zM197 162h4v2h-4zM223 162h2v2h-2zM237 162h2v2h-2zM299 162h2v2h-2zM209 164h2v2h-2zM221 164h2v2h-2zM193 166h2v2h-2zM225 170h2v2h-2zM201 172h2v2h-2zM261 172h2v2h-2zM267 172h2v2h-2zM259 174h2v2h-2zM255 176h2v2h-2zM205 180h2v2h-2zM237 182h2v2h-2zM241 186h2v2h-2zM271 186h2v2h-2zM269 188h2v2h-2zM261 192h2v2h-2zM245 194h2v2h-2zM245 202h2v2h-2z"/>
<path fill="#00ffc5" d="M221 50h2v2h-2zM277 62h2v2h-2zM237 70h2v2h-2zM269 70h2v2h-2zM193 72h2v2h-2zM227 74h2v2h-2zM201 80h2v2h-2zM191 84h2v2h-2zM201 84h2v2h-2zM287 86h2v2h-2zM293 98h2v2h-2zM255 102h2v2h-2zM287 102h2v2h-2zM233 112h2v2h-2zM189 114h2v2h-2zM233 114h2v2h-2zM195 116h2v2h-2zM247 116h2v2h-2zM309 116h2v2h-2zM221 120h2v2h-2zM173 128h2v2h-2zM227 130h2v2h-2zM265 130h2v2h-2zM173 146h2v2h-2zM177 148h2v2h-2zM187 148h2v2h-2zM199 152h2v2h-2zM213 156h2v2h-2zM233 166h2v2h-2zM195 172h2v2h-2zM199 172h2v2h-2zM205 176h2v2h-2zM255 178h2v2h-2zM249 196h2v2h-2zM261 196h2v2h-2zM249 198h2v2h-2z"/>
<path fill="#0070ff" d="M205 60h2v2h-2zM203 62h2v2h-2zM201 64h2v2h-2z"/>
<path fill="#005aff" d="M195 62h2v2h-2z"/>
<path fill="#0090ff" d="M207 64h2v2h-2zM203 70h2v2h-2z"/>
<path fill="#004dff" d="M205 66h2v2h-2z"/>
<path fill="#78ff00" d="M213 88h4v2h-4zM225 90h2v2h-2zM217 92h2v2h-2zM219 94h2v2h-2zM217 100h2v2h-2zM225 100h2v2h-2zM291 130h2v2h-2zM289 156h2v2h-2zM289 162h2v2h-2zM281 170h2v2h-2z"/>
<path fill="#87ff00" d="M217 88h2v2h-2zM223 88h2v2h-2zM215 90h4v2h-4zM223 90h2v2h-2zM219 92h2v2h-2zM223 92h4v2h-4zM223 94h2v2h-2zM289 132h2v2h-2zM291 134h2v2h-2zM297 148h2v2h-2zM257 154h2v2h-2zM295 156h2v2h-2zM285 160h2v2h-2zM275 162h2v2h-2zM281 162h2v2h-2zM275 164h2v2h-2zM279 164h2v2h-2zM283 164h2v2h-2zM283 166h2v2h-2zM281 168h2v2h-2z"/>
<path fill="#7fff00" d="M219 88h2v2h-2zM213 90h2v2h-2zM217 94h2v2h-2zM217 96h2v2h-2zM221 96h2v2h-2zM215 98h4v2h-4zM221 98h2v2h-2zM287 132h2v2h-2zM289 134h2v2h-2zM287 136h2v2h-2zM293 156h2v2h-2zM281 160h2v2h-2zM301 160h2v2h-2zM279 168h2v2h-2zM285 172h2v2h-2z"/>
<path fill="#96ff00" d="M225 88h2v2h-2zM213 92h2v2h-2zM287 130h4v2h-4zM293 130h2v2h-2zM295 148h2v2h-2zM255 152h2v2h-2zM283 156h2v2h-2zM293 158h2v2h-2zM295 160h2v2h-2zM287 162h2v2h-2zM277 164h2v2h-2zM289 164h2v2h-2zM285 166h2v2h-2z"/>
<path fill="#8eff00" d="M219 90h2v2h-2zM219 96h2v2h-2zM293 132h2v2h-2zM283 136h2v2h-2zM279 158h2v2h-2zM283 158h2v2h-2zM285 162h2v2h-2zM279 170h2v2h-2zM277 172h2v2h-2z"/>
<path fill="#a5ff00" d="M221 92h2v2h-2zM221 94h2v2h-2zM215 96h2v2h-2zM295 130h2v2h-2zM291 132h2v2h-2zM285 134h2v2h-2zM289 138h2v2h-2zM253 154h2v2h-2zM253 156h2v2h-2zM293 160h2v2h-2zM287 164h2v2h-2zM281 166h2v2h-2z"/>
<path fill="#9dff00" d="M215 94h2v2h-2zM223 96h2v2h-2zM297 128h2v2h-2zM283 134h2v2h-2zM279 140h4v2h-4zM257 152h2v2h-2zM281 156h2v2h-2zM255 158h2v2h-2zM281 158h2v2h-2zM289 158h2v2h-2zM295 158h2v2h-2zM277 160h2v2h-2zM279 162h2v2h-2zM285 164h2v2h-2zM279 166h2v2h-2zM283 168h2v2h-2zM285 170h2v2h-2z"/>
<path fill="#adff00" d="M219 98h2v2h-2zM285 132h2v2h-2zM287 134h2v2h-2zM285 136h2v2h-2zM289 136h2v2h-2zM281 138h2v2h-2zM285 138h2v2h-2zM287 158h2v2h-2zM279 160h2v2h-2zM277 162h2v2h-2zM283 162h2v2h-2zM281 164h2v2h-2zM287 172h2v2h-2z"/>
</g></g></g>
<text x="242.3" y="15.5" font-family="'Liberation Sans', Arial, Helvetica, sans-serif" font-size="11.6" text-anchor="middle" fill="#000" stroke="#000" stroke-width="0.3">ObsID 10973</text>
<text x="141.8" y="29.50" font-family="'Liberation Sans', Arial, Helvetica, sans-serif" font-size="9.5" text-anchor="end" fill="#000" stroke="#000" stroke-width="0.3">41.3</text>
<text x="141.8" y="78.17" font-family="'Liberation Sans', Arial, Helvetica, sans-serif" font-size="9.5" text-anchor="end" fill="#000" stroke="#000" stroke-width="0.3">41.2</text>
<text x="141.8" y="126.84" font-family="'Liberation Sans', Arial, Helvetica, sans-serif" font-size="9.5" text-anchor="end" fill="#000" stroke="#000" stroke-width="0.3">41.1</text>
<text x="141.8" y="175.51" font-family="'Liberation Sans', Arial, Helvetica, sans-serif" font-size="9.5" text-anchor="end" fill="#000" stroke="#000" stroke-width="0.3">41.0</text>
<text transform="translate(118.2,117) rotate(-90)" font-family="'Liberation Sans', Arial, Helvetica, sans-serif" font-size="8.6" text-anchor="middle" fill="#000" stroke="#000" stroke-width="0.3">DEC</text>
<text x="153.60" y="226.2" font-family="'Liberation Sans', Arial, Helvetica, sans-serif" font-size="9.4" text-anchor="middle" fill="#000" stroke="#000" stroke-width="0.3">309.0</text>
<text x="190.10" y="226.2" font-family="'Liberation Sans', Arial, Helvetica, sans-serif" font-size="9.4" text-anchor="middle" fill="#000" stroke="#000" stroke-width="0.3">308.9</text>
<text x="226.60" y="226.2" font-family="'Liberation Sans', Arial, Helvetica, sans-serif" font-size="9.4" text-anchor="middle" fill="#000" stroke="#000" stroke-width="0.3">308.8</text>
<text x="263.10" y="226.2" font-family="'Liberation Sans', Arial, Helvetica, sans-serif" font-size="9.4" text-anchor="middle" fill="#000" stroke="#000" stroke-width="0.3">308.7</text>
<text x="299.60" y="226.2" font-family="'Liberation Sans', Arial, Helvetica, sans-serif" font-size="9.4" text-anchor="middle" fill="#000" stroke="#000" stroke-width="0.3">308.6</text>
<text x="336.10" y="226.2" font-family="'Liberation Sans', Arial, Helvetica, sans-serif" font-size="9.4" text-anchor="middle" fill="#000" stroke="#000" stroke-width="0.3">308.5</text>
<rect x="146.5" y="230.6" width="196" height="9.1" fill="url(#cb)" stroke="#000" stroke-opacity="0.55" stroke-width="0.6"/>
<rect x="146.0" y="230.4" width="1.4" height="9.5" fill="#000"/>
<line x1="146.50" y1="239.7" x2="146.50" y2="237.8" stroke="#000" stroke-width="0.8"/>
<line x1="156.30" y1="239.7" x2="156.30" y2="237.8" stroke="#000" stroke-width="0.8"/>
<line x1="166.10" y1="239.7" x2="166.10" y2="237.8" stroke="#000" stroke-width="0.8"/>
<line x1="175.90" y1="239.7" x2="175.90" y2="237.8" stroke="#000" stroke-width="0.8"/>
<line x1="185.70" y1="239.7" x2="185.70" y2="237.8" stroke="#000" stroke-width="0.8"/>
<line x1="195.50" y1="239.7" x2="195.50" y2="237.8" stroke="#000" stroke-width="0.8"/>
<line x1="205.30" y1="239.7" x2="205.30" y2="237.8" stroke="#000" stroke-width="0.8"/>
<line x1="215.10" y1="239.7" x2="215.10" y2="237.8" stroke="#000" stroke-width="0.8"/>
<line x1="224.90" y1="239.7" x2="224.90" y2="237.8" stroke="#000" stroke-width="0.8"/>
<line x1="234.70" y1="239.7" x2="234.70" y2="237.8" stroke="#000" stroke-width="0.8"/>
<line x1="244.50" y1="239.7" x2="244.50" y2="237.8" stroke="#000" stroke-width="0.8"/>
<line x1="254.30" y1="239.7" x2="254.30" y2="237.8" stroke="#000" stroke-width="0.8"/>
<line x1="264.10" y1="239.7" x2="264.10" y2="237.8" stroke="#000" stroke-width="0.8"/>
<line x1="273.90" y1="239.7" x2="273.90" y2="237.8" stroke="#000" stroke-width="0.8"/>
<line x1="283.70" y1="239.7" x2="283.70" y2="237.8" stroke="#000" stroke-width="0.8"/>
<line x1="293.50" y1="239.7" x2="293.50" y2="237.8" stroke="#000" stroke-width="0.8"/>
<line x1="303.30" y1="239.7" x2="303.30" y2="237.8" stroke="#000" stroke-width="0.8"/>
<line x1="313.10" y1="239.7" x2="313.10" y2="237.8" stroke="#000" stroke-width="0.8"/>
<line x1="322.90" y1="239.7" x2="322.90" y2="237.8" stroke="#000" stroke-width="0.8"/>
<line x1="332.70" y1="239.7" x2="332.70" y2="237.8" stroke="#000" stroke-width="0.8"/>
<line x1="342.50" y1="239.7" x2="342.50" y2="237.8" stroke="#000" stroke-width="0.8"/>
<text x="146.50" y="250.2" font-family="'Liberation Sans', Arial, Helvetica, sans-serif" font-size="8.1" text-anchor="middle" fill="#000" stroke="#000" stroke-width="0.3">-0.30</text>
<text x="166.10" y="250.2" font-family="'Liberation Sans', Arial, Helvetica, sans-serif" font-size="8.1" text-anchor="middle" fill="#000" stroke="#000" stroke-width="0.3">-0.22</text>
<text x="185.70" y="250.2" font-family="'Liberation Sans', Arial, Helvetica, sans-serif" font-size="8.1" text-anchor="middle" fill="#000" stroke="#000" stroke-width="0.3">-0.14</text>
<text x="205.30" y="250.2" font-family="'Liberation Sans', Arial, Helvetica, sans-serif" font-size="8.1" text-anchor="middle" fill="#000" stroke="#000" stroke-width="0.3">-0.06</text>
<text x="224.90" y="250.2" font-family="'Liberation Sans', Arial, Helvetica, sans-serif" font-size="8.1" text-anchor="middle" fill="#000" stroke="#000" stroke-width="0.3">0.02</text>
<text x="244.50" y="250.2" font-family="'Liberation Sans', Arial, Helvetica, sans-serif" font-size="8.1" text-anchor="middle" fill="#000" stroke="#000" stroke-width="0.3">0.10</text>
<text x="264.10" y="250.2" font-family="'Liberation Sans', Arial, Helvetica, sans-serif" font-size="8.1" text-anchor="middle" fill="#000" stroke="#000" stroke-width="0.3">0.18</text>
<text x="283.70" y="250.2" font-family="'Liberation Sans', Arial, Helvetica, sans-serif" font-size="8.1" text-anchor="middle" fill="#000" stroke="#000" stroke-width="0.3">0.26</text>
<text x="303.30" y="250.2" font-family="'Liberation Sans', Arial, Helvetica, sans-serif" font-size="8.1" text-anchor="middle" fill="#000" stroke="#000" stroke-width="0.3">0.34</text>
<text x="322.90" y="250.2" font-family="'Liberation Sans', Arial, Helvetica, sans-serif" font-size="8.1" text-anchor="middle" fill="#000" stroke="#000" stroke-width="0.3">0.42</text>
<text x="342.50" y="250.2" font-family="'Liberation Sans', Arial, Helvetica, sans-serif" font-size="8.1" text-anchor="middle" fill="#000" stroke="#000" stroke-width="0.3">0.50</text>
<text x="244.5" y="261.2" font-family="'Liberation Sans', Arial, Helvetica, sans-serif" font-size="8.1" text-anchor="middle" fill="#000" stroke="#000" stroke-width="0.3">(S-H)/(S+H)</text>
<rect x="52.5" y="1.6" width="296.7" height="266.4" fill="none" stroke="#a8a8a8" stroke-width="1.1"/>
<line x1="52.50" y1="268.0" x2="52.50" y2="264.7" stroke="#a8a8a8" stroke-width="1.1"/>
<line x1="52.50" y1="1.6" x2="52.50" y2="4.9" stroke="#a8a8a8" stroke-width="1.1"/>
<line x1="69.00" y1="268.0" x2="69.00" y2="264.7" stroke="#a8a8a8" stroke-width="1.1"/>
<line x1="69.00" y1="1.6" x2="69.00" y2="4.9" stroke="#a8a8a8" stroke-width="1.1"/>
<line x1="85.50" y1="268.0" x2="85.50" y2="262.5" stroke="#a8a8a8" stroke-width="1.1"/>
<line x1="85.50" y1="1.6" x2="85.50" y2="7.1" stroke="#a8a8a8" stroke-width="1.1"/>
<line x1="102.00" y1="268.0" x2="102.00" y2="264.7" stroke="#a8a8a8" stroke-width="1.1"/>
<line x1="102.00" y1="1.6" x2="102.00" y2="4.9" stroke="#a8a8a8" stroke-width="1.1"/>
<line x1="118.50" y1="268.0" x2="118.50" y2="264.7" stroke="#a8a8a8" stroke-width="1.1"/>
<line x1="118.50" y1="1.6" x2="118.50" y2="4.9" stroke="#a8a8a8" stroke-width="1.1"/>
<line x1="135.00" y1="268.0" x2="135.00" y2="264.7" stroke="#a8a8a8" stroke-width="1.1"/>
<line x1="135.00" y1="1.6" x2="135.00" y2="4.9" stroke="#a8a8a8" stroke-width="1.1"/>
<line x1="151.50" y1="268.0" x2="151.50" y2="262.5" stroke="#a8a8a8" stroke-width="1.1"/>
<line x1="151.50" y1="1.6" x2="151.50" y2="7.1" stroke="#a8a8a8" stroke-width="1.1"/>
<line x1="168.00" y1="268.0" x2="168.00" y2="264.7" stroke="#a8a8a8" stroke-width="1.1"/>
<line x1="168.00" y1="1.6" x2="168.00" y2="4.9" stroke="#a8a8a8" stroke-width="1.1"/>
<line x1="184.50" y1="268.0" x2="184.50" y2="264.7" stroke="#a8a8a8" stroke-width="1.1"/>
<line x1="184.50" y1="1.6" x2="184.50" y2="4.9" stroke="#a8a8a8" stroke-width="1.1"/>
<line x1="201.00" y1="268.0" x2="201.00" y2="264.7" stroke="#a8a8a8" stroke-width="1.1"/>
<line x1="201.00" y1="1.6" x2="201.00" y2="4.9" stroke="#a8a8a8" stroke-width="1.1"/>
<line x1="217.50" y1="268.0" x2="217.50" y2="262.5" stroke="#a8a8a8" stroke-width="1.1"/>
<line x1="217.50" y1="1.6" x2="217.50" y2="7.1" stroke="#a8a8a8" stroke-width="1.1"/>
<line x1="234.00" y1="268.0" x2="234.00" y2="264.7" stroke="#a8a8a8" stroke-width="1.1"/>
<line x1="234.00" y1="1.6" x2="234.00" y2="4.9" stroke="#a8a8a8" stroke-width="1.1"/>
<line x1="250.50" y1="268.0" x2="250.50" y2="264.7" stroke="#a8a8a8" stroke-width="1.1"/>
<line x1="250.50" y1="1.6" x2="250.50" y2="4.9" stroke="#a8a8a8" stroke-width="1.1"/>
<line x1="267.00" y1="268.0" x2="267.00" y2="264.7" stroke="#a8a8a8" stroke-width="1.1"/>
<line x1="267.00" y1="1.6" x2="267.00" y2="4.9" stroke="#a8a8a8" stroke-width="1.1"/>
<line x1="283.50" y1="268.0" x2="283.50" y2="262.5" stroke="#a8a8a8" stroke-width="1.1"/>
<line x1="283.50" y1="1.6" x2="283.50" y2="7.1" stroke="#a8a8a8" stroke-width="1.1"/>
<line x1="300.00" y1="268.0" x2="300.00" y2="264.7" stroke="#a8a8a8" stroke-width="1.1"/>
<line x1="300.00" y1="1.6" x2="300.00" y2="4.9" stroke="#a8a8a8" stroke-width="1.1"/>
<line x1="316.50" y1="268.0" x2="316.50" y2="264.7" stroke="#a8a8a8" stroke-width="1.1"/>
<line x1="316.50" y1="1.6" x2="316.50" y2="4.9" stroke="#a8a8a8" stroke-width="1.1"/>
<line x1="333.00" y1="268.0" x2="333.00" y2="264.7" stroke="#a8a8a8" stroke-width="1.1"/>
<line x1="333.00" y1="1.6" x2="333.00" y2="4.9" stroke="#a8a8a8" stroke-width="1.1"/>
<line x1="349.50" y1="268.0" x2="349.50" y2="262.5" stroke="#a8a8a8" stroke-width="1.1"/>
<line x1="349.50" y1="1.6" x2="349.50" y2="7.1" stroke="#a8a8a8" stroke-width="1.1"/>
<line x1="52.5" y1="268.00" x2="58.5" y2="268.00" stroke="#a8a8a8" stroke-width="1.1"/>
<line x1="349.2" y1="268.00" x2="343.2" y2="268.00" stroke="#a8a8a8" stroke-width="1.1"/>
<line x1="52.5" y1="253.88" x2="55.8" y2="253.88" stroke="#a8a8a8" stroke-width="1.1"/>
<line x1="349.2" y1="253.88" x2="345.9" y2="253.88" stroke="#a8a8a8" stroke-width="1.1"/>
<line x1="52.5" y1="239.76" x2="55.8" y2="239.76" stroke="#a8a8a8" stroke-width="1.1"/>
<line x1="349.2" y1="239.76" x2="345.9" y2="239.76" stroke="#a8a8a8" stroke-width="1.1"/>
<line x1="52.5" y1="225.64" x2="55.8" y2="225.64" stroke="#a8a8a8" stroke-width="1.1"/>
<line x1="349.2" y1="225.64" x2="345.9" y2="225.64" stroke="#a8a8a8" stroke-width="1.1"/>
<line x1="52.5" y1="211.52" x2="55.8" y2="211.52" stroke="#a8a8a8" stroke-width="1.1"/>
<line x1="349.2" y1="211.52" x2="345.9" y2="211.52" stroke="#a8a8a8" stroke-width="1.1"/>
<line x1="52.5" y1="197.40" x2="58.5" y2="197.40" stroke="#a8a8a8" stroke-width="1.1"/>
<line x1="349.2" y1="197.40" x2="343.2" y2="197.40" stroke="#a8a8a8" stroke-width="1.1"/>
<line x1="52.5" y1="183.28" x2="55.8" y2="183.28" stroke="#a8a8a8" stroke-width="1.1"/>
<line x1="349.2" y1="183.28" x2="345.9" y2="183.28" stroke="#a8a8a8" stroke-width="1.1"/>
<line x1="52.5" y1="169.16" x2="55.8" y2="169.16" stroke="#a8a8a8" stroke-width="1.1"/>
<line x1="349.2" y1="169.16" x2="345.9" y2="169.16" stroke="#a8a8a8" stroke-width="1.1"/>
<line x1="52.5" y1="155.04" x2="55.8" y2="155.04" stroke="#a8a8a8" stroke-width="1.1"/>
<line x1="349.2" y1="155.04" x2="345.9" y2="155.04" stroke="#a8a8a8" stroke-width="1.1"/>
<line x1="52.5" y1="140.92" x2="55.8" y2="140.92" stroke="#a8a8a8" stroke-width="1.1"/>
<line x1="349.2" y1="140.92" x2="345.9" y2="140.92" stroke="#a8a8a8" stroke-width="1.1"/>
<line x1="52.5" y1="126.80" x2="58.5" y2="126.80" stroke="#a8a8a8" stroke-width="1.1"/>
<line x1="349.2" y1="126.80" x2="343.2" y2="126.80" stroke="#a8a8a8" stroke-width="1.1"/>
<line x1="52.5" y1="112.68" x2="55.8" y2="112.68" stroke="#a8a8a8" stroke-width="1.1"/>
<line x1="349.2" y1="112.68" x2="345.9" y2="112.68" stroke="#a8a8a8" stroke-width="1.1"/>
<line x1="52.5" y1="98.56" x2="55.8" y2="98.56" stroke="#a8a8a8" stroke-width="1.1"/>
<line x1="349.2" y1="98.56" x2="345.9" y2="98.56" stroke="#a8a8a8" stroke-width="1.1"/>
<line x1="52.5" y1="84.44" x2="55.8" y2="84.44" stroke="#a8a8a8" stroke-width="1.1"/>
<line x1="349.2" y1="84.44" x2="345.9" y2="84.44" stroke="#a8a8a8" stroke-width="1.1"/>
<line x1="52.5" y1="70.32" x2="55.8" y2="70.32" stroke="#a8a8a8" stroke-width="1.1"/>
<line x1="349.2" y1="70.32" x2="345.9" y2="70.32" stroke="#a8a8a8" stroke-width="1.1"/>
<line x1="52.5" y1="56.20" x2="58.5" y2="56.20" stroke="#a8a8a8" stroke-width="1.1"/>
<line x1="349.2" y1="56.20" x2="343.2" y2="56.20" stroke="#a8a8a8" stroke-width="1.1"/>
<line x1="52.5" y1="42.08" x2="55.8" y2="42.08" stroke="#a8a8a8" stroke-width="1.1"/>
<line x1="349.2" y1="42.08" x2="345.9" y2="42.08" stroke="#a8a8a8" stroke-width="1.1"/>
<line x1="52.5" y1="27.96" x2="55.8" y2="27.96" stroke="#a8a8a8" stroke-width="1.1"/>
<line x1="349.2" y1="27.96" x2="345.9" y2="27.96" stroke="#a8a8a8" stroke-width="1.1"/>
<line x1="52.5" y1="13.84" x2="55.8" y2="13.84" stroke="#a8a8a8" stroke-width="1.1"/>
<line x1="349.2" y1="13.84" x2="345.9" y2="13.84" stroke="#a8a8a8" stroke-width="1.1"/>
<clipPath id="pb"><rect x="52.5" y="1.3" width="296.7" height="273.0"/></clipPath>
<path clip-path="url(#pb)" d="M52.6,266.8 V266.8 H57.70 V257.4 H62.63 V243.0 H67.56 V226.3 H72.49 V199.7 H77.42 V149.7 H82.35 V95.5 H87.28 V48.2 H92.50 V0.0 H97.14 V0.0 H102.07 V38.2 H107.00 V92.5 H111.93 V136.0 H116.86 V174.0 H121.79 V204.0 H126.72 V234.0 H131.65 V250.0 H136.58 V260.2 H141.51 V265.5 H146.44 V267.3 H151.37 V268.0 H156.30 V268.0 H159.20" fill="none" stroke="#000" stroke-width="2.4" stroke-linejoin="miter"/>
<line clip-path="url(#pb)" x1="97.6" y1="268" x2="97.6" y2="0" stroke="#000" stroke-width="2" stroke-dasharray="6.3 6.2"/>
<g clip-path="url(#pa)">
<linearGradient id="hl" x1="0" y1="0" x2="356" y2="0" gradientUnits="userSpaceOnUse"><stop offset="0.15515" stop-color="#6800e4"/><stop offset="0.16900" stop-color="#6800e4"/><stop offset="0.16900" stop-color="#5800ec"/><stop offset="0.18285" stop-color="#5800ec"/><stop offset="0.18285" stop-color="#4408f2"/><stop offset="0.19670" stop-color="#4408f2"/><stop offset="0.19670" stop-color="#3010f8"/><stop offset="0.21055" stop-color="#3010f8"/><stop offset="0.21055" stop-color="#2020ff"/><stop offset="0.22440" stop-color="#2020ff"/><stop offset="0.22440" stop-color="#1030ff"/><stop offset="0.23824" stop-color="#1030ff"/><stop offset="0.23824" stop-color="#0044ff"/><stop offset="0.25209" stop-color="#0044ff"/><stop offset="0.25209" stop-color="#1890f8"/><stop offset="0.26798" stop-color="#1890f8"/><stop offset="0.26798" stop-color="#30e0ff"/><stop offset="0.27809" stop-color="#30e0ff"/><stop offset="0.27809" stop-color="#20f0c0"/><stop offset="0.29364" stop-color="#20f0c0"/><stop offset="0.29364" stop-color="#08ff70"/><stop offset="0.30749" stop-color="#08ff70"/><stop offset="0.30749" stop-color="#10ff30"/><stop offset="0.32133" stop-color="#10ff30"/><stop offset="0.32133" stop-color="#30ff08"/><stop offset="0.33518" stop-color="#30ff08"/><stop offset="0.33518" stop-color="#58ff00"/><stop offset="0.34903" stop-color="#58ff00"/><stop offset="0.34903" stop-color="#88ff00"/><stop offset="0.36288" stop-color="#88ff00"/><stop offset="0.36288" stop-color="#b0ff00"/><stop offset="0.37673" stop-color="#b0ff00"/><stop offset="0.37673" stop-color="#d8ff00"/><stop offset="0.39058" stop-color="#d8ff00"/><stop offset="0.39058" stop-color="#f8f800"/><stop offset="0.40442" stop-color="#f8f800"/><stop offset="0.40442" stop-color="#ffe000"/><stop offset="0.41827" stop-color="#ffe000"/><stop offset="0.41827" stop-color="#f4c400"/><stop offset="0.43212" stop-color="#f4c400"/></linearGradient>
<polyline points="55.23,266.8 60.16,257.4 65.09,243.0 70.03,226.3 74.95,199.7 79.88,149.7 84.81,95.5 89.75,48.2 95.40,0.0 99.00,0.0 104.53,38.2 109.47,92.5 114.39,136.0 119.33,174.0 124.25,204.0 129.19,234.0 134.12,250.0 139.05,260.2 143.97,265.5 148.90,267.3 153.83,268.0" fill="none" stroke="url(#hl)" stroke-width="2.8" stroke-linejoin="miter" stroke-miterlimit="10" stroke-linecap="butt"/>
</g>
<circle cx="52.4" cy="267.8" r="2.0" fill="#000"/>
<text x="85.50" y="281.6" font-family="'Liberation Sans', Arial, Helvetica, sans-serif" font-size="10.4" text-anchor="middle" fill="#000" stroke="#000" stroke-width="0.3">-0.2</text>
<text x="151.50" y="281.6" font-family="'Liberation Sans', Arial, Helvetica, sans-serif" font-size="10.4" text-anchor="middle" fill="#000" stroke="#000" stroke-width="0.3">0.0</text>
<text x="217.50" y="281.6" font-family="'Liberation Sans', Arial, Helvetica, sans-serif" font-size="10.4" text-anchor="middle" fill="#000" stroke="#000" stroke-width="0.3">0.2</text>
<text x="283.50" y="281.6" font-family="'Liberation Sans', Arial, Helvetica, sans-serif" font-size="10.4" text-anchor="middle" fill="#000" stroke="#000" stroke-width="0.3">0.4</text>
<text x="349.50" y="281.6" font-family="'Liberation Sans', Arial, Helvetica, sans-serif" font-size="10.4" text-anchor="middle" fill="#000" stroke="#000" stroke-width="0.3">0.6</text>
<text x="50.2" y="59.7" font-family="'Liberation Sans', Arial, Helvetica, sans-serif" font-size="10.4" text-anchor="end" fill="#000" stroke="#000" stroke-width="0.3">1.5•10<tspan font-size="6.8" dy="-4.2">4</tspan></text>
<text x="50.2" y="130.4" font-family="'Liberation Sans', Arial, Helvetica, sans-serif" font-size="10.4" text-anchor="end" fill="#000" stroke="#000" stroke-width="0.3">1.0•10<tspan font-size="6.8" dy="-4.2">4</tspan></text>
<text x="50.2" y="201.1" font-family="'Liberation Sans', Arial, Helvetica, sans-serif" font-size="10.4" text-anchor="end" fill="#000" stroke="#000" stroke-width="0.3">5.0•10<tspan font-size="6.8" dy="-4.2">3</tspan></text>
<text x="50.0" y="268.4" font-family="'Liberation Sans', Arial, Helvetica, sans-serif" font-size="10.4" text-anchor="end" fill="#000" stroke="#000" stroke-width="0.3">0</text>
<text transform="translate(7.8,134.8) rotate(-90)" font-family="'Liberation Sans', Arial, Helvetica, sans-serif" font-size="10.4" text-anchor="middle" fill="#000" stroke="#000" stroke-width="0.3">#</text>
<text x="200.5" y="292.6" font-family="'Liberation Sans', Arial, Helvetica, sans-serif" font-size="10.4" text-anchor="middle" fill="#000" stroke="#000" stroke-width="0.3">Hardness Ratio</text>
</svg>
</body></html>
